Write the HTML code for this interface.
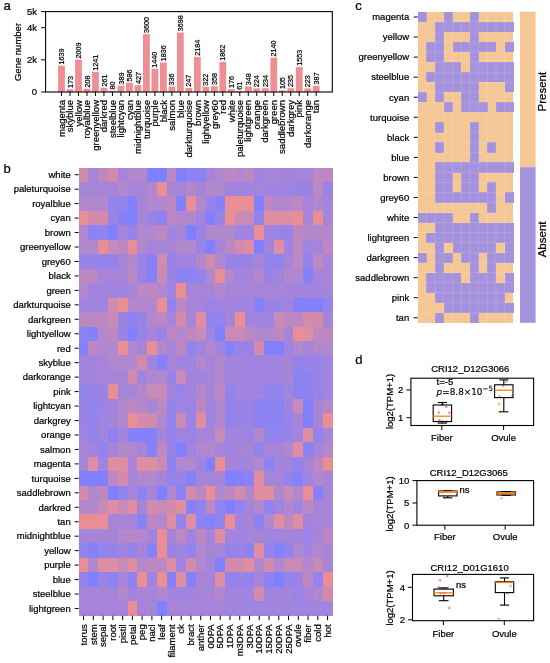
<!DOCTYPE html>
<html lang="en"><head><meta charset="utf-8"><title>Figure</title>
<style>
html,body{margin:0;padding:0;background:#fff;}
body{width:550px;height:663px;overflow:hidden;}
svg{display:block;font-family:'Liberation Sans', Arial, sans-serif;}
svg text{stroke:#000;stroke-width:0.22px;paint-order:stroke fill;}
</style></head>
<body>
<svg width="550" height="663" viewBox="0 0 550 663">
<rect x="0" y="0" width="550" height="663" fill="#ffffff"/>
<text x="3.50" y="10.20" font-size="13" text-anchor="start" fill="#000">a</text>
<text x="3.50" y="173.00" font-size="13" text-anchor="start" fill="#000">b</text>
<text x="355.30" y="10.20" font-size="13" text-anchor="start" fill="#000">c</text>
<text x="355.30" y="363.60" font-size="13" text-anchor="start" fill="#000">d</text>
<rect x="58.10" y="65.64" width="6.80" height="26.36" fill="#EE8F96"/>
<text x="64.10" y="64.44" font-size="7.2" text-anchor="start" fill="#000" transform="rotate(-90 64.10 64.44)">1639</text>
<line x1="61.50" y1="92.00" x2="61.50" y2="96.00" stroke="#000" stroke-width="1.0"/>
<text x="64.70" y="100.00" font-size="9.5" text-anchor="end" fill="#000" transform="rotate(-90 64.70 100.00)">magenta</text>
<rect x="66.59" y="89.22" width="6.80" height="2.78" fill="#EE8F96"/>
<text x="72.59" y="88.02" font-size="7.2" text-anchor="start" fill="#000" transform="rotate(-90 72.59 88.02)">173</text>
<line x1="69.99" y1="92.00" x2="69.99" y2="96.00" stroke="#000" stroke-width="1.0"/>
<text x="73.19" y="100.00" font-size="9.5" text-anchor="end" fill="#000" transform="rotate(-90 73.19 100.00)">skyblue</text>
<rect x="75.08" y="59.70" width="6.80" height="32.30" fill="#EE8F96"/>
<text x="81.08" y="58.50" font-size="7.2" text-anchor="start" fill="#000" transform="rotate(-90 81.08 58.50)">2009</text>
<line x1="78.48" y1="92.00" x2="78.48" y2="96.00" stroke="#000" stroke-width="1.0"/>
<text x="81.68" y="100.00" font-size="9.5" text-anchor="end" fill="#000" transform="rotate(-90 81.68 100.00)">yellow</text>
<rect x="83.57" y="88.66" width="6.80" height="3.34" fill="#EE8F96"/>
<text x="89.57" y="87.46" font-size="7.2" text-anchor="start" fill="#000" transform="rotate(-90 89.57 87.46)">208</text>
<line x1="86.97" y1="92.00" x2="86.97" y2="96.00" stroke="#000" stroke-width="1.0"/>
<text x="90.17" y="100.00" font-size="9.5" text-anchor="end" fill="#000" transform="rotate(-90 90.17 100.00)">royalblue</text>
<rect x="92.06" y="72.04" width="6.80" height="19.96" fill="#EE8F96"/>
<text x="98.06" y="70.84" font-size="7.2" text-anchor="start" fill="#000" transform="rotate(-90 98.06 70.84)">1241</text>
<line x1="95.46" y1="92.00" x2="95.46" y2="96.00" stroke="#000" stroke-width="1.0"/>
<text x="98.66" y="100.00" font-size="9.5" text-anchor="end" fill="#000" transform="rotate(-90 98.66 100.00)">greenyellow</text>
<rect x="100.55" y="87.80" width="6.80" height="4.20" fill="#EE8F96"/>
<text x="106.55" y="86.60" font-size="7.2" text-anchor="start" fill="#000" transform="rotate(-90 106.55 86.60)">261</text>
<line x1="103.95" y1="92.00" x2="103.95" y2="96.00" stroke="#000" stroke-width="1.0"/>
<text x="107.15" y="100.00" font-size="9.5" text-anchor="end" fill="#000" transform="rotate(-90 107.15 100.00)">darkred</text>
<rect x="109.04" y="90.71" width="6.80" height="1.29" fill="#EE8F96"/>
<text x="115.04" y="89.51" font-size="7.2" text-anchor="start" fill="#000" transform="rotate(-90 115.04 89.51)">80</text>
<line x1="112.44" y1="92.00" x2="112.44" y2="96.00" stroke="#000" stroke-width="1.0"/>
<text x="115.64" y="100.00" font-size="9.5" text-anchor="end" fill="#000" transform="rotate(-90 115.64 100.00)">steelblue</text>
<rect x="117.53" y="85.74" width="6.80" height="6.26" fill="#EE8F96"/>
<text x="123.53" y="84.54" font-size="7.2" text-anchor="start" fill="#000" transform="rotate(-90 123.53 84.54)">389</text>
<line x1="120.93" y1="92.00" x2="120.93" y2="96.00" stroke="#000" stroke-width="1.0"/>
<text x="124.13" y="100.00" font-size="9.5" text-anchor="end" fill="#000" transform="rotate(-90 124.13 100.00)">lightcyan</text>
<rect x="126.02" y="82.58" width="6.80" height="9.42" fill="#EE8F96"/>
<text x="132.02" y="81.38" font-size="7.2" text-anchor="start" fill="#000" transform="rotate(-90 132.02 81.38)">586</text>
<line x1="129.42" y1="92.00" x2="129.42" y2="96.00" stroke="#000" stroke-width="1.0"/>
<text x="132.62" y="100.00" font-size="9.5" text-anchor="end" fill="#000" transform="rotate(-90 132.62 100.00)">cyan</text>
<rect x="134.51" y="85.13" width="6.80" height="6.87" fill="#EE8F96"/>
<text x="140.51" y="83.93" font-size="7.2" text-anchor="start" fill="#000" transform="rotate(-90 140.51 83.93)">427</text>
<line x1="137.91" y1="92.00" x2="137.91" y2="96.00" stroke="#000" stroke-width="1.0"/>
<text x="141.11" y="100.00" font-size="9.5" text-anchor="end" fill="#000" transform="rotate(-90 141.11 100.00)">midnightblue</text>
<rect x="143.00" y="34.11" width="6.80" height="57.89" fill="#EE8F96"/>
<text x="149.00" y="32.91" font-size="7.2" text-anchor="start" fill="#000" transform="rotate(-90 149.00 32.91)">3600</text>
<line x1="146.40" y1="92.00" x2="146.40" y2="96.00" stroke="#000" stroke-width="1.0"/>
<text x="149.60" y="100.00" font-size="9.5" text-anchor="end" fill="#000" transform="rotate(-90 149.60 100.00)">turquoise</text>
<rect x="151.49" y="68.84" width="6.80" height="23.16" fill="#EE8F96"/>
<text x="157.49" y="67.64" font-size="7.2" text-anchor="start" fill="#000" transform="rotate(-90 157.49 67.64)">1440</text>
<line x1="154.89" y1="92.00" x2="154.89" y2="96.00" stroke="#000" stroke-width="1.0"/>
<text x="158.09" y="100.00" font-size="9.5" text-anchor="end" fill="#000" transform="rotate(-90 158.09 100.00)">purple</text>
<rect x="159.98" y="62.48" width="6.80" height="29.52" fill="#EE8F96"/>
<text x="165.98" y="61.28" font-size="7.2" text-anchor="start" fill="#000" transform="rotate(-90 165.98 61.28)">1836</text>
<line x1="163.38" y1="92.00" x2="163.38" y2="96.00" stroke="#000" stroke-width="1.0"/>
<text x="166.58" y="100.00" font-size="9.5" text-anchor="end" fill="#000" transform="rotate(-90 166.58 100.00)">black</text>
<rect x="168.47" y="86.60" width="6.80" height="5.40" fill="#EE8F96"/>
<text x="174.47" y="85.40" font-size="7.2" text-anchor="start" fill="#000" transform="rotate(-90 174.47 85.40)">336</text>
<line x1="171.87" y1="92.00" x2="171.87" y2="96.00" stroke="#000" stroke-width="1.0"/>
<text x="175.07" y="100.00" font-size="9.5" text-anchor="end" fill="#000" transform="rotate(-90 175.07 100.00)">salmon</text>
<rect x="176.96" y="32.54" width="6.80" height="59.46" fill="#EE8F96"/>
<text x="182.96" y="31.34" font-size="7.2" text-anchor="start" fill="#000" transform="rotate(-90 182.96 31.34)">3698</text>
<line x1="180.36" y1="92.00" x2="180.36" y2="96.00" stroke="#000" stroke-width="1.0"/>
<text x="183.56" y="100.00" font-size="9.5" text-anchor="end" fill="#000" transform="rotate(-90 183.56 100.00)">blue</text>
<rect x="185.45" y="88.03" width="6.80" height="3.97" fill="#EE8F96"/>
<text x="191.45" y="86.83" font-size="7.2" text-anchor="start" fill="#000" transform="rotate(-90 191.45 86.83)">247</text>
<line x1="188.85" y1="92.00" x2="188.85" y2="96.00" stroke="#000" stroke-width="1.0"/>
<text x="192.05" y="100.00" font-size="9.5" text-anchor="end" fill="#000" transform="rotate(-90 192.05 100.00)">darkturquoise</text>
<rect x="193.94" y="56.88" width="6.80" height="35.12" fill="#EE8F96"/>
<text x="199.94" y="55.68" font-size="7.2" text-anchor="start" fill="#000" transform="rotate(-90 199.94 55.68)">2184</text>
<line x1="197.34" y1="92.00" x2="197.34" y2="96.00" stroke="#000" stroke-width="1.0"/>
<text x="200.54" y="100.00" font-size="9.5" text-anchor="end" fill="#000" transform="rotate(-90 200.54 100.00)">brown</text>
<rect x="202.43" y="86.82" width="6.80" height="5.18" fill="#EE8F96"/>
<text x="208.43" y="85.62" font-size="7.2" text-anchor="start" fill="#000" transform="rotate(-90 208.43 85.62)">322</text>
<line x1="205.83" y1="92.00" x2="205.83" y2="96.00" stroke="#000" stroke-width="1.0"/>
<text x="209.03" y="100.00" font-size="9.5" text-anchor="end" fill="#000" transform="rotate(-90 209.03 100.00)">lightyellow</text>
<rect x="210.92" y="86.24" width="6.80" height="5.76" fill="#EE8F96"/>
<text x="216.92" y="85.04" font-size="7.2" text-anchor="start" fill="#000" transform="rotate(-90 216.92 85.04)">358</text>
<line x1="214.32" y1="92.00" x2="214.32" y2="96.00" stroke="#000" stroke-width="1.0"/>
<text x="217.52" y="100.00" font-size="9.5" text-anchor="end" fill="#000" transform="rotate(-90 217.52 100.00)">grey60</text>
<rect x="219.41" y="62.06" width="6.80" height="29.94" fill="#EE8F96"/>
<text x="225.41" y="60.86" font-size="7.2" text-anchor="start" fill="#000" transform="rotate(-90 225.41 60.86)">1862</text>
<line x1="222.81" y1="92.00" x2="222.81" y2="96.00" stroke="#000" stroke-width="1.0"/>
<text x="226.01" y="100.00" font-size="9.5" text-anchor="end" fill="#000" transform="rotate(-90 226.01 100.00)">red</text>
<rect x="227.90" y="89.17" width="6.80" height="2.83" fill="#EE8F96"/>
<text x="233.90" y="87.97" font-size="7.2" text-anchor="start" fill="#000" transform="rotate(-90 233.90 87.97)">176</text>
<line x1="231.30" y1="92.00" x2="231.30" y2="96.00" stroke="#000" stroke-width="1.0"/>
<text x="234.50" y="100.00" font-size="9.5" text-anchor="end" fill="#000" transform="rotate(-90 234.50 100.00)">white</text>
<rect x="236.39" y="91.02" width="6.80" height="0.98" fill="#EE8F96"/>
<text x="242.39" y="89.82" font-size="7.2" text-anchor="start" fill="#000" transform="rotate(-90 242.39 89.82)">61</text>
<line x1="239.79" y1="92.00" x2="239.79" y2="96.00" stroke="#000" stroke-width="1.0"/>
<text x="242.99" y="100.00" font-size="9.5" text-anchor="end" fill="#000" transform="rotate(-90 242.99 100.00)">paleturquoise</text>
<rect x="244.88" y="86.40" width="6.80" height="5.60" fill="#EE8F96"/>
<text x="250.88" y="85.20" font-size="7.2" text-anchor="start" fill="#000" transform="rotate(-90 250.88 85.20)">348</text>
<line x1="248.28" y1="92.00" x2="248.28" y2="96.00" stroke="#000" stroke-width="1.0"/>
<text x="251.48" y="100.00" font-size="9.5" text-anchor="end" fill="#000" transform="rotate(-90 251.48 100.00)">lightgreen</text>
<rect x="253.37" y="88.40" width="6.80" height="3.60" fill="#EE8F96"/>
<text x="259.37" y="87.20" font-size="7.2" text-anchor="start" fill="#000" transform="rotate(-90 259.37 87.20)">224</text>
<line x1="256.77" y1="92.00" x2="256.77" y2="96.00" stroke="#000" stroke-width="1.0"/>
<text x="259.97" y="100.00" font-size="9.5" text-anchor="end" fill="#000" transform="rotate(-90 259.97 100.00)">orange</text>
<rect x="261.86" y="88.24" width="6.80" height="3.76" fill="#EE8F96"/>
<text x="267.86" y="87.04" font-size="7.2" text-anchor="start" fill="#000" transform="rotate(-90 267.86 87.04)">234</text>
<line x1="265.26" y1="92.00" x2="265.26" y2="96.00" stroke="#000" stroke-width="1.0"/>
<text x="268.46" y="100.00" font-size="9.5" text-anchor="end" fill="#000" transform="rotate(-90 268.46 100.00)">darkgreen</text>
<rect x="270.35" y="57.59" width="6.80" height="34.41" fill="#EE8F96"/>
<text x="276.35" y="56.39" font-size="7.2" text-anchor="start" fill="#000" transform="rotate(-90 276.35 56.39)">2140</text>
<line x1="273.75" y1="92.00" x2="273.75" y2="96.00" stroke="#000" stroke-width="1.0"/>
<text x="276.95" y="100.00" font-size="9.5" text-anchor="end" fill="#000" transform="rotate(-90 276.95 100.00)">green</text>
<rect x="278.84" y="90.31" width="6.80" height="1.69" fill="#EE8F96"/>
<text x="284.84" y="89.11" font-size="7.2" text-anchor="start" fill="#000" transform="rotate(-90 284.84 89.11)">105</text>
<line x1="282.24" y1="92.00" x2="282.24" y2="96.00" stroke="#000" stroke-width="1.0"/>
<text x="285.44" y="100.00" font-size="9.5" text-anchor="end" fill="#000" transform="rotate(-90 285.44 100.00)">saddlebrown</text>
<rect x="287.33" y="88.22" width="6.80" height="3.78" fill="#EE8F96"/>
<text x="293.33" y="87.02" font-size="7.2" text-anchor="start" fill="#000" transform="rotate(-90 293.33 87.02)">235</text>
<line x1="290.73" y1="92.00" x2="290.73" y2="96.00" stroke="#000" stroke-width="1.0"/>
<text x="293.93" y="100.00" font-size="9.5" text-anchor="end" fill="#000" transform="rotate(-90 293.93 100.00)">darkgrey</text>
<rect x="295.82" y="67.03" width="6.80" height="24.97" fill="#EE8F96"/>
<text x="301.82" y="65.83" font-size="7.2" text-anchor="start" fill="#000" transform="rotate(-90 301.82 65.83)">1553</text>
<line x1="299.22" y1="92.00" x2="299.22" y2="96.00" stroke="#000" stroke-width="1.0"/>
<text x="302.42" y="100.00" font-size="9.5" text-anchor="end" fill="#000" transform="rotate(-90 302.42 100.00)">pink</text>
<rect x="304.31" y="88.41" width="6.80" height="3.59" fill="#EE8F96"/>
<text x="310.31" y="87.21" font-size="7.2" text-anchor="start" fill="#000" transform="rotate(-90 310.31 87.21)">223</text>
<line x1="307.71" y1="92.00" x2="307.71" y2="96.00" stroke="#000" stroke-width="1.0"/>
<text x="310.91" y="100.00" font-size="9.5" text-anchor="end" fill="#000" transform="rotate(-90 310.91 100.00)">darkorange</text>
<rect x="312.80" y="85.78" width="6.80" height="6.22" fill="#EE8F96"/>
<text x="318.80" y="84.58" font-size="7.2" text-anchor="start" fill="#000" transform="rotate(-90 318.80 84.58)">387</text>
<line x1="316.20" y1="92.00" x2="316.20" y2="96.00" stroke="#000" stroke-width="1.0"/>
<text x="319.40" y="100.00" font-size="9.5" text-anchor="end" fill="#000" transform="rotate(-90 319.40 100.00)">tan</text>
<rect x="45.60" y="11.60" width="286.70" height="80.40" fill="none" stroke="#000" stroke-width="1.1"/>
<line x1="41.10" y1="92.00" x2="45.60" y2="92.00" stroke="#000" stroke-width="1.0"/>
<text x="37.10" y="95.40" font-size="9.5" text-anchor="end" fill="#000">0</text>
<line x1="41.10" y1="59.84" x2="45.60" y2="59.84" stroke="#000" stroke-width="1.0"/>
<text x="37.10" y="63.24" font-size="9.5" text-anchor="end" fill="#000">2k</text>
<line x1="41.10" y1="27.68" x2="45.60" y2="27.68" stroke="#000" stroke-width="1.0"/>
<text x="37.10" y="31.08" font-size="9.5" text-anchor="end" fill="#000">4k</text>
<line x1="41.10" y1="11.60" x2="45.60" y2="11.60" stroke="#000" stroke-width="1.0"/>
<text x="37.10" y="15.00" font-size="9.5" text-anchor="end" fill="#000">5k</text>
<text x="21.00" y="52.00" font-size="9.5" text-anchor="middle" fill="#000" transform="rotate(-90 21.00 52.00)">Gene number</text>
<g shape-rendering="crispEdges">
<rect x="78.70" y="167.50" width="10.06" height="14.76" fill="#d38bac"/>
<rect x="88.46" y="167.50" width="10.06" height="14.76" fill="#a685d9"/>
<rect x="98.22" y="167.50" width="10.06" height="14.76" fill="#bd88c2"/>
<rect x="107.98" y="167.50" width="10.06" height="14.76" fill="#d38bac"/>
<rect x="117.74" y="167.50" width="10.06" height="14.76" fill="#a685d9"/>
<rect x="127.50" y="167.50" width="10.06" height="14.76" fill="#b187ce"/>
<rect x="137.26" y="167.50" width="10.06" height="14.76" fill="#b187ce"/>
<rect x="147.02" y="167.50" width="10.06" height="14.76" fill="#8080ff"/>
<rect x="156.78" y="167.50" width="10.06" height="14.76" fill="#8080ff"/>
<rect x="166.54" y="167.50" width="10.06" height="14.76" fill="#bd88c2"/>
<rect x="176.30" y="167.50" width="10.06" height="14.76" fill="#8080ff"/>
<rect x="186.06" y="167.50" width="10.06" height="14.76" fill="#8d82f2"/>
<rect x="195.82" y="167.50" width="10.06" height="14.76" fill="#8d82f2"/>
<rect x="205.58" y="167.50" width="10.06" height="14.76" fill="#a685d9"/>
<rect x="215.34" y="167.50" width="10.06" height="14.76" fill="#b187ce"/>
<rect x="225.10" y="167.50" width="10.06" height="14.76" fill="#bd88c2"/>
<rect x="234.86" y="167.50" width="10.06" height="14.76" fill="#b187ce"/>
<rect x="244.62" y="167.50" width="10.06" height="14.76" fill="#bd88c2"/>
<rect x="254.38" y="167.50" width="10.06" height="14.76" fill="#a084df"/>
<rect x="264.14" y="167.50" width="10.06" height="14.76" fill="#a685d9"/>
<rect x="273.90" y="167.50" width="10.06" height="14.76" fill="#a685d9"/>
<rect x="283.66" y="167.50" width="10.06" height="14.76" fill="#a084df"/>
<rect x="293.42" y="167.50" width="10.06" height="14.76" fill="#a685d9"/>
<rect x="303.18" y="167.50" width="10.06" height="14.76" fill="#a685d9"/>
<rect x="312.94" y="167.50" width="10.06" height="14.76" fill="#bd88c2"/>
<rect x="322.70" y="167.50" width="10.06" height="14.76" fill="#bd88c2"/>
<rect x="78.70" y="181.96" width="10.06" height="14.76" fill="#a685d9"/>
<rect x="88.46" y="181.96" width="10.06" height="14.76" fill="#a685d9"/>
<rect x="98.22" y="181.96" width="10.06" height="14.76" fill="#a685d9"/>
<rect x="107.98" y="181.96" width="10.06" height="14.76" fill="#a685d9"/>
<rect x="117.74" y="181.96" width="10.06" height="14.76" fill="#b187ce"/>
<rect x="127.50" y="181.96" width="10.06" height="14.76" fill="#a685d9"/>
<rect x="137.26" y="181.96" width="10.06" height="14.76" fill="#a685d9"/>
<rect x="147.02" y="181.96" width="10.06" height="14.76" fill="#b187ce"/>
<rect x="156.78" y="181.96" width="10.06" height="14.76" fill="#ea8e95"/>
<rect x="166.54" y="181.96" width="10.06" height="14.76" fill="#a685d9"/>
<rect x="176.30" y="181.96" width="10.06" height="14.76" fill="#a685d9"/>
<rect x="186.06" y="181.96" width="10.06" height="14.76" fill="#b187ce"/>
<rect x="195.82" y="181.96" width="10.06" height="14.76" fill="#a685d9"/>
<rect x="205.58" y="181.96" width="10.06" height="14.76" fill="#b187ce"/>
<rect x="215.34" y="181.96" width="10.06" height="14.76" fill="#b187ce"/>
<rect x="225.10" y="181.96" width="10.06" height="14.76" fill="#a084df"/>
<rect x="234.86" y="181.96" width="10.06" height="14.76" fill="#a084df"/>
<rect x="244.62" y="181.96" width="10.06" height="14.76" fill="#a084df"/>
<rect x="254.38" y="181.96" width="10.06" height="14.76" fill="#a685d9"/>
<rect x="264.14" y="181.96" width="10.06" height="14.76" fill="#a084df"/>
<rect x="273.90" y="181.96" width="10.06" height="14.76" fill="#a084df"/>
<rect x="283.66" y="181.96" width="10.06" height="14.76" fill="#a084df"/>
<rect x="293.42" y="181.96" width="10.06" height="14.76" fill="#9983e6"/>
<rect x="303.18" y="181.96" width="10.06" height="14.76" fill="#9983e6"/>
<rect x="312.94" y="181.96" width="10.06" height="14.76" fill="#bd88c2"/>
<rect x="322.70" y="181.96" width="10.06" height="14.76" fill="#9983e6"/>
<rect x="78.70" y="196.42" width="10.06" height="14.76" fill="#b187ce"/>
<rect x="88.46" y="196.42" width="10.06" height="14.76" fill="#b187ce"/>
<rect x="98.22" y="196.42" width="10.06" height="14.76" fill="#b187ce"/>
<rect x="107.98" y="196.42" width="10.06" height="14.76" fill="#9383ec"/>
<rect x="117.74" y="196.42" width="10.06" height="14.76" fill="#9383ec"/>
<rect x="127.50" y="196.42" width="10.06" height="14.76" fill="#8080ff"/>
<rect x="137.26" y="196.42" width="10.06" height="14.76" fill="#a685d9"/>
<rect x="147.02" y="196.42" width="10.06" height="14.76" fill="#b187ce"/>
<rect x="156.78" y="196.42" width="10.06" height="14.76" fill="#b187ce"/>
<rect x="166.54" y="196.42" width="10.06" height="14.76" fill="#bd88c2"/>
<rect x="176.30" y="196.42" width="10.06" height="14.76" fill="#8080ff"/>
<rect x="186.06" y="196.42" width="10.06" height="14.76" fill="#ea8e95"/>
<rect x="195.82" y="196.42" width="10.06" height="14.76" fill="#b187ce"/>
<rect x="205.58" y="196.42" width="10.06" height="14.76" fill="#9983e6"/>
<rect x="215.34" y="196.42" width="10.06" height="14.76" fill="#8681f9"/>
<rect x="225.10" y="196.42" width="10.06" height="14.76" fill="#ea8e95"/>
<rect x="234.86" y="196.42" width="10.06" height="14.76" fill="#ea8e95"/>
<rect x="244.62" y="196.42" width="10.06" height="14.76" fill="#ea8e95"/>
<rect x="254.38" y="196.42" width="10.06" height="14.76" fill="#8080ff"/>
<rect x="264.14" y="196.42" width="10.06" height="14.76" fill="#bd88c2"/>
<rect x="273.90" y="196.42" width="10.06" height="14.76" fill="#b187ce"/>
<rect x="283.66" y="196.42" width="10.06" height="14.76" fill="#b187ce"/>
<rect x="293.42" y="196.42" width="10.06" height="14.76" fill="#bd88c2"/>
<rect x="303.18" y="196.42" width="10.06" height="14.76" fill="#a685d9"/>
<rect x="312.94" y="196.42" width="10.06" height="14.76" fill="#b187ce"/>
<rect x="322.70" y="196.42" width="10.06" height="14.76" fill="#a685d9"/>
<rect x="78.70" y="210.87" width="10.06" height="14.76" fill="#ea8e95"/>
<rect x="88.46" y="210.87" width="10.06" height="14.76" fill="#d38bac"/>
<rect x="98.22" y="210.87" width="10.06" height="14.76" fill="#d38bac"/>
<rect x="107.98" y="210.87" width="10.06" height="14.76" fill="#9983e6"/>
<rect x="117.74" y="210.87" width="10.06" height="14.76" fill="#8681f9"/>
<rect x="127.50" y="210.87" width="10.06" height="14.76" fill="#8080ff"/>
<rect x="137.26" y="210.87" width="10.06" height="14.76" fill="#a685d9"/>
<rect x="147.02" y="210.87" width="10.06" height="14.76" fill="#9983e6"/>
<rect x="156.78" y="210.87" width="10.06" height="14.76" fill="#8d82f2"/>
<rect x="166.54" y="210.87" width="10.06" height="14.76" fill="#bd88c2"/>
<rect x="176.30" y="210.87" width="10.06" height="14.76" fill="#b187ce"/>
<rect x="186.06" y="210.87" width="10.06" height="14.76" fill="#b187ce"/>
<rect x="195.82" y="210.87" width="10.06" height="14.76" fill="#a084df"/>
<rect x="205.58" y="210.87" width="10.06" height="14.76" fill="#8080ff"/>
<rect x="215.34" y="210.87" width="10.06" height="14.76" fill="#9983e6"/>
<rect x="225.10" y="210.87" width="10.06" height="14.76" fill="#ea8e95"/>
<rect x="234.86" y="210.87" width="10.06" height="14.76" fill="#c88ab7"/>
<rect x="244.62" y="210.87" width="10.06" height="14.76" fill="#c88ab7"/>
<rect x="254.38" y="210.87" width="10.06" height="14.76" fill="#9383ec"/>
<rect x="264.14" y="210.87" width="10.06" height="14.76" fill="#df8da0"/>
<rect x="273.90" y="210.87" width="10.06" height="14.76" fill="#df8da0"/>
<rect x="283.66" y="210.87" width="10.06" height="14.76" fill="#df8da0"/>
<rect x="293.42" y="210.87" width="10.06" height="14.76" fill="#ea8e95"/>
<rect x="303.18" y="210.87" width="10.06" height="14.76" fill="#a685d9"/>
<rect x="312.94" y="210.87" width="10.06" height="14.76" fill="#ea8e95"/>
<rect x="322.70" y="210.87" width="10.06" height="14.76" fill="#a685d9"/>
<rect x="78.70" y="225.33" width="10.06" height="14.76" fill="#b187ce"/>
<rect x="88.46" y="225.33" width="10.06" height="14.76" fill="#8d82f2"/>
<rect x="98.22" y="225.33" width="10.06" height="14.76" fill="#9383ec"/>
<rect x="107.98" y="225.33" width="10.06" height="14.76" fill="#8080ff"/>
<rect x="117.74" y="225.33" width="10.06" height="14.76" fill="#a685d9"/>
<rect x="127.50" y="225.33" width="10.06" height="14.76" fill="#9983e6"/>
<rect x="137.26" y="225.33" width="10.06" height="14.76" fill="#b187ce"/>
<rect x="147.02" y="225.33" width="10.06" height="14.76" fill="#b187ce"/>
<rect x="156.78" y="225.33" width="10.06" height="14.76" fill="#bd88c2"/>
<rect x="166.54" y="225.33" width="10.06" height="14.76" fill="#a084df"/>
<rect x="176.30" y="225.33" width="10.06" height="14.76" fill="#a685d9"/>
<rect x="186.06" y="225.33" width="10.06" height="14.76" fill="#8080ff"/>
<rect x="195.82" y="225.33" width="10.06" height="14.76" fill="#9983e6"/>
<rect x="205.58" y="225.33" width="10.06" height="14.76" fill="#b187ce"/>
<rect x="215.34" y="225.33" width="10.06" height="14.76" fill="#b187ce"/>
<rect x="225.10" y="225.33" width="10.06" height="14.76" fill="#b187ce"/>
<rect x="234.86" y="225.33" width="10.06" height="14.76" fill="#a084df"/>
<rect x="244.62" y="225.33" width="10.06" height="14.76" fill="#a084df"/>
<rect x="254.38" y="225.33" width="10.06" height="14.76" fill="#ea8e95"/>
<rect x="264.14" y="225.33" width="10.06" height="14.76" fill="#a084df"/>
<rect x="273.90" y="225.33" width="10.06" height="14.76" fill="#9983e6"/>
<rect x="283.66" y="225.33" width="10.06" height="14.76" fill="#9983e6"/>
<rect x="293.42" y="225.33" width="10.06" height="14.76" fill="#bd88c2"/>
<rect x="303.18" y="225.33" width="10.06" height="14.76" fill="#b187ce"/>
<rect x="312.94" y="225.33" width="10.06" height="14.76" fill="#b187ce"/>
<rect x="322.70" y="225.33" width="10.06" height="14.76" fill="#b187ce"/>
<rect x="78.70" y="239.79" width="10.06" height="14.76" fill="#b187ce"/>
<rect x="88.46" y="239.79" width="10.06" height="14.76" fill="#b187ce"/>
<rect x="98.22" y="239.79" width="10.06" height="14.76" fill="#ea8e95"/>
<rect x="107.98" y="239.79" width="10.06" height="14.76" fill="#c88ab7"/>
<rect x="117.74" y="239.79" width="10.06" height="14.76" fill="#bd88c2"/>
<rect x="127.50" y="239.79" width="10.06" height="14.76" fill="#ea8e95"/>
<rect x="137.26" y="239.79" width="10.06" height="14.76" fill="#b187ce"/>
<rect x="147.02" y="239.79" width="10.06" height="14.76" fill="#a685d9"/>
<rect x="156.78" y="239.79" width="10.06" height="14.76" fill="#a685d9"/>
<rect x="166.54" y="239.79" width="10.06" height="14.76" fill="#a685d9"/>
<rect x="176.30" y="239.79" width="10.06" height="14.76" fill="#b187ce"/>
<rect x="186.06" y="239.79" width="10.06" height="14.76" fill="#b187ce"/>
<rect x="195.82" y="239.79" width="10.06" height="14.76" fill="#9983e6"/>
<rect x="205.58" y="239.79" width="10.06" height="14.76" fill="#8080ff"/>
<rect x="215.34" y="239.79" width="10.06" height="14.76" fill="#a685d9"/>
<rect x="225.10" y="239.79" width="10.06" height="14.76" fill="#bd88c2"/>
<rect x="234.86" y="239.79" width="10.06" height="14.76" fill="#d38bac"/>
<rect x="244.62" y="239.79" width="10.06" height="14.76" fill="#df8da0"/>
<rect x="254.38" y="239.79" width="10.06" height="14.76" fill="#8080ff"/>
<rect x="264.14" y="239.79" width="10.06" height="14.76" fill="#a084df"/>
<rect x="273.90" y="239.79" width="10.06" height="14.76" fill="#df8da0"/>
<rect x="283.66" y="239.79" width="10.06" height="14.76" fill="#a084df"/>
<rect x="293.42" y="239.79" width="10.06" height="14.76" fill="#bd88c2"/>
<rect x="303.18" y="239.79" width="10.06" height="14.76" fill="#a084df"/>
<rect x="312.94" y="239.79" width="10.06" height="14.76" fill="#a685d9"/>
<rect x="322.70" y="239.79" width="10.06" height="14.76" fill="#bd88c2"/>
<rect x="78.70" y="254.25" width="10.06" height="14.76" fill="#9983e6"/>
<rect x="88.46" y="254.25" width="10.06" height="14.76" fill="#9983e6"/>
<rect x="98.22" y="254.25" width="10.06" height="14.76" fill="#9383ec"/>
<rect x="107.98" y="254.25" width="10.06" height="14.76" fill="#9383ec"/>
<rect x="117.74" y="254.25" width="10.06" height="14.76" fill="#a685d9"/>
<rect x="127.50" y="254.25" width="10.06" height="14.76" fill="#b187ce"/>
<rect x="137.26" y="254.25" width="10.06" height="14.76" fill="#9983e6"/>
<rect x="147.02" y="254.25" width="10.06" height="14.76" fill="#8681f9"/>
<rect x="156.78" y="254.25" width="10.06" height="14.76" fill="#d38bac"/>
<rect x="166.54" y="254.25" width="10.06" height="14.76" fill="#9983e6"/>
<rect x="176.30" y="254.25" width="10.06" height="14.76" fill="#a084df"/>
<rect x="186.06" y="254.25" width="10.06" height="14.76" fill="#a084df"/>
<rect x="195.82" y="254.25" width="10.06" height="14.76" fill="#b187ce"/>
<rect x="205.58" y="254.25" width="10.06" height="14.76" fill="#d38bac"/>
<rect x="215.34" y="254.25" width="10.06" height="14.76" fill="#b187ce"/>
<rect x="225.10" y="254.25" width="10.06" height="14.76" fill="#9983e6"/>
<rect x="234.86" y="254.25" width="10.06" height="14.76" fill="#9983e6"/>
<rect x="244.62" y="254.25" width="10.06" height="14.76" fill="#9983e6"/>
<rect x="254.38" y="254.25" width="10.06" height="14.76" fill="#a685d9"/>
<rect x="264.14" y="254.25" width="10.06" height="14.76" fill="#9383ec"/>
<rect x="273.90" y="254.25" width="10.06" height="14.76" fill="#9383ec"/>
<rect x="283.66" y="254.25" width="10.06" height="14.76" fill="#a685d9"/>
<rect x="293.42" y="254.25" width="10.06" height="14.76" fill="#bd88c2"/>
<rect x="303.18" y="254.25" width="10.06" height="14.76" fill="#9383ec"/>
<rect x="312.94" y="254.25" width="10.06" height="14.76" fill="#bd88c2"/>
<rect x="322.70" y="254.25" width="10.06" height="14.76" fill="#a685d9"/>
<rect x="78.70" y="268.71" width="10.06" height="14.76" fill="#bd88c2"/>
<rect x="88.46" y="268.71" width="10.06" height="14.76" fill="#bd88c2"/>
<rect x="98.22" y="268.71" width="10.06" height="14.76" fill="#a685d9"/>
<rect x="107.98" y="268.71" width="10.06" height="14.76" fill="#a685d9"/>
<rect x="117.74" y="268.71" width="10.06" height="14.76" fill="#a685d9"/>
<rect x="127.50" y="268.71" width="10.06" height="14.76" fill="#bd88c2"/>
<rect x="137.26" y="268.71" width="10.06" height="14.76" fill="#9983e6"/>
<rect x="147.02" y="268.71" width="10.06" height="14.76" fill="#8681f9"/>
<rect x="156.78" y="268.71" width="10.06" height="14.76" fill="#c88ab7"/>
<rect x="166.54" y="268.71" width="10.06" height="14.76" fill="#9983e6"/>
<rect x="176.30" y="268.71" width="10.06" height="14.76" fill="#8d82f2"/>
<rect x="186.06" y="268.71" width="10.06" height="14.76" fill="#8d82f2"/>
<rect x="195.82" y="268.71" width="10.06" height="14.76" fill="#9383ec"/>
<rect x="205.58" y="268.71" width="10.06" height="14.76" fill="#b187ce"/>
<rect x="215.34" y="268.71" width="10.06" height="14.76" fill="#ea8e95"/>
<rect x="225.10" y="268.71" width="10.06" height="14.76" fill="#b187ce"/>
<rect x="234.86" y="268.71" width="10.06" height="14.76" fill="#a084df"/>
<rect x="244.62" y="268.71" width="10.06" height="14.76" fill="#a685d9"/>
<rect x="254.38" y="268.71" width="10.06" height="14.76" fill="#b187ce"/>
<rect x="264.14" y="268.71" width="10.06" height="14.76" fill="#9983e6"/>
<rect x="273.90" y="268.71" width="10.06" height="14.76" fill="#a084df"/>
<rect x="283.66" y="268.71" width="10.06" height="14.76" fill="#b187ce"/>
<rect x="293.42" y="268.71" width="10.06" height="14.76" fill="#b187ce"/>
<rect x="303.18" y="268.71" width="10.06" height="14.76" fill="#8681f9"/>
<rect x="312.94" y="268.71" width="10.06" height="14.76" fill="#a685d9"/>
<rect x="322.70" y="268.71" width="10.06" height="14.76" fill="#a685d9"/>
<rect x="78.70" y="283.16" width="10.06" height="14.76" fill="#b187ce"/>
<rect x="88.46" y="283.16" width="10.06" height="14.76" fill="#a084df"/>
<rect x="98.22" y="283.16" width="10.06" height="14.76" fill="#a084df"/>
<rect x="107.98" y="283.16" width="10.06" height="14.76" fill="#a084df"/>
<rect x="117.74" y="283.16" width="10.06" height="14.76" fill="#a084df"/>
<rect x="127.50" y="283.16" width="10.06" height="14.76" fill="#a685d9"/>
<rect x="137.26" y="283.16" width="10.06" height="14.76" fill="#bd88c2"/>
<rect x="147.02" y="283.16" width="10.06" height="14.76" fill="#bd88c2"/>
<rect x="156.78" y="283.16" width="10.06" height="14.76" fill="#b187ce"/>
<rect x="166.54" y="283.16" width="10.06" height="14.76" fill="#a084df"/>
<rect x="176.30" y="283.16" width="10.06" height="14.76" fill="#ea8e95"/>
<rect x="186.06" y="283.16" width="10.06" height="14.76" fill="#a685d9"/>
<rect x="195.82" y="283.16" width="10.06" height="14.76" fill="#a685d9"/>
<rect x="205.58" y="283.16" width="10.06" height="14.76" fill="#a685d9"/>
<rect x="215.34" y="283.16" width="10.06" height="14.76" fill="#b187ce"/>
<rect x="225.10" y="283.16" width="10.06" height="14.76" fill="#a685d9"/>
<rect x="234.86" y="283.16" width="10.06" height="14.76" fill="#a685d9"/>
<rect x="244.62" y="283.16" width="10.06" height="14.76" fill="#a685d9"/>
<rect x="254.38" y="283.16" width="10.06" height="14.76" fill="#a685d9"/>
<rect x="264.14" y="283.16" width="10.06" height="14.76" fill="#a685d9"/>
<rect x="273.90" y="283.16" width="10.06" height="14.76" fill="#a685d9"/>
<rect x="283.66" y="283.16" width="10.06" height="14.76" fill="#a685d9"/>
<rect x="293.42" y="283.16" width="10.06" height="14.76" fill="#a084df"/>
<rect x="303.18" y="283.16" width="10.06" height="14.76" fill="#a084df"/>
<rect x="312.94" y="283.16" width="10.06" height="14.76" fill="#a084df"/>
<rect x="322.70" y="283.16" width="10.06" height="14.76" fill="#a685d9"/>
<rect x="78.70" y="297.62" width="10.06" height="14.76" fill="#a084df"/>
<rect x="88.46" y="297.62" width="10.06" height="14.76" fill="#a084df"/>
<rect x="98.22" y="297.62" width="10.06" height="14.76" fill="#a084df"/>
<rect x="107.98" y="297.62" width="10.06" height="14.76" fill="#d38bac"/>
<rect x="117.74" y="297.62" width="10.06" height="14.76" fill="#ea8e95"/>
<rect x="127.50" y="297.62" width="10.06" height="14.76" fill="#b187ce"/>
<rect x="137.26" y="297.62" width="10.06" height="14.76" fill="#b187ce"/>
<rect x="147.02" y="297.62" width="10.06" height="14.76" fill="#b187ce"/>
<rect x="156.78" y="297.62" width="10.06" height="14.76" fill="#ea8e95"/>
<rect x="166.54" y="297.62" width="10.06" height="14.76" fill="#9383ec"/>
<rect x="176.30" y="297.62" width="10.06" height="14.76" fill="#bd88c2"/>
<rect x="186.06" y="297.62" width="10.06" height="14.76" fill="#a685d9"/>
<rect x="195.82" y="297.62" width="10.06" height="14.76" fill="#a685d9"/>
<rect x="205.58" y="297.62" width="10.06" height="14.76" fill="#9983e6"/>
<rect x="215.34" y="297.62" width="10.06" height="14.76" fill="#a084df"/>
<rect x="225.10" y="297.62" width="10.06" height="14.76" fill="#a084df"/>
<rect x="234.86" y="297.62" width="10.06" height="14.76" fill="#a084df"/>
<rect x="244.62" y="297.62" width="10.06" height="14.76" fill="#a084df"/>
<rect x="254.38" y="297.62" width="10.06" height="14.76" fill="#8681f9"/>
<rect x="264.14" y="297.62" width="10.06" height="14.76" fill="#9983e6"/>
<rect x="273.90" y="297.62" width="10.06" height="14.76" fill="#9983e6"/>
<rect x="283.66" y="297.62" width="10.06" height="14.76" fill="#a084df"/>
<rect x="293.42" y="297.62" width="10.06" height="14.76" fill="#8681f9"/>
<rect x="303.18" y="297.62" width="10.06" height="14.76" fill="#8681f9"/>
<rect x="312.94" y="297.62" width="10.06" height="14.76" fill="#8080ff"/>
<rect x="322.70" y="297.62" width="10.06" height="14.76" fill="#9383ec"/>
<rect x="78.70" y="312.08" width="10.06" height="14.76" fill="#bd88c2"/>
<rect x="88.46" y="312.08" width="10.06" height="14.76" fill="#bd88c2"/>
<rect x="98.22" y="312.08" width="10.06" height="14.76" fill="#bd88c2"/>
<rect x="107.98" y="312.08" width="10.06" height="14.76" fill="#c88ab7"/>
<rect x="117.74" y="312.08" width="10.06" height="14.76" fill="#9983e6"/>
<rect x="127.50" y="312.08" width="10.06" height="14.76" fill="#8d82f2"/>
<rect x="137.26" y="312.08" width="10.06" height="14.76" fill="#9983e6"/>
<rect x="147.02" y="312.08" width="10.06" height="14.76" fill="#b187ce"/>
<rect x="156.78" y="312.08" width="10.06" height="14.76" fill="#bd88c2"/>
<rect x="166.54" y="312.08" width="10.06" height="14.76" fill="#a685d9"/>
<rect x="176.30" y="312.08" width="10.06" height="14.76" fill="#d38bac"/>
<rect x="186.06" y="312.08" width="10.06" height="14.76" fill="#a685d9"/>
<rect x="195.82" y="312.08" width="10.06" height="14.76" fill="#df8da0"/>
<rect x="205.58" y="312.08" width="10.06" height="14.76" fill="#9383ec"/>
<rect x="215.34" y="312.08" width="10.06" height="14.76" fill="#9383ec"/>
<rect x="225.10" y="312.08" width="10.06" height="14.76" fill="#a685d9"/>
<rect x="234.86" y="312.08" width="10.06" height="14.76" fill="#ea8e95"/>
<rect x="244.62" y="312.08" width="10.06" height="14.76" fill="#a084df"/>
<rect x="254.38" y="312.08" width="10.06" height="14.76" fill="#a084df"/>
<rect x="264.14" y="312.08" width="10.06" height="14.76" fill="#a084df"/>
<rect x="273.90" y="312.08" width="10.06" height="14.76" fill="#c88ab7"/>
<rect x="283.66" y="312.08" width="10.06" height="14.76" fill="#bd88c2"/>
<rect x="293.42" y="312.08" width="10.06" height="14.76" fill="#bd88c2"/>
<rect x="303.18" y="312.08" width="10.06" height="14.76" fill="#d38bac"/>
<rect x="312.94" y="312.08" width="10.06" height="14.76" fill="#d38bac"/>
<rect x="322.70" y="312.08" width="10.06" height="14.76" fill="#a685d9"/>
<rect x="78.70" y="326.54" width="10.06" height="14.76" fill="#8d82f2"/>
<rect x="88.46" y="326.54" width="10.06" height="14.76" fill="#8681f9"/>
<rect x="98.22" y="326.54" width="10.06" height="14.76" fill="#b187ce"/>
<rect x="107.98" y="326.54" width="10.06" height="14.76" fill="#bd88c2"/>
<rect x="117.74" y="326.54" width="10.06" height="14.76" fill="#9983e6"/>
<rect x="127.50" y="326.54" width="10.06" height="14.76" fill="#8080ff"/>
<rect x="137.26" y="326.54" width="10.06" height="14.76" fill="#9983e6"/>
<rect x="147.02" y="326.54" width="10.06" height="14.76" fill="#a685d9"/>
<rect x="156.78" y="326.54" width="10.06" height="14.76" fill="#9983e6"/>
<rect x="166.54" y="326.54" width="10.06" height="14.76" fill="#bd88c2"/>
<rect x="176.30" y="326.54" width="10.06" height="14.76" fill="#b187ce"/>
<rect x="186.06" y="326.54" width="10.06" height="14.76" fill="#bd88c2"/>
<rect x="195.82" y="326.54" width="10.06" height="14.76" fill="#c88ab7"/>
<rect x="205.58" y="326.54" width="10.06" height="14.76" fill="#a084df"/>
<rect x="215.34" y="326.54" width="10.06" height="14.76" fill="#8080ff"/>
<rect x="225.10" y="326.54" width="10.06" height="14.76" fill="#c88ab7"/>
<rect x="234.86" y="326.54" width="10.06" height="14.76" fill="#c88ab7"/>
<rect x="244.62" y="326.54" width="10.06" height="14.76" fill="#bd88c2"/>
<rect x="254.38" y="326.54" width="10.06" height="14.76" fill="#b187ce"/>
<rect x="264.14" y="326.54" width="10.06" height="14.76" fill="#b187ce"/>
<rect x="273.90" y="326.54" width="10.06" height="14.76" fill="#bd88c2"/>
<rect x="283.66" y="326.54" width="10.06" height="14.76" fill="#a685d9"/>
<rect x="293.42" y="326.54" width="10.06" height="14.76" fill="#ea8e95"/>
<rect x="303.18" y="326.54" width="10.06" height="14.76" fill="#df8da0"/>
<rect x="312.94" y="326.54" width="10.06" height="14.76" fill="#bd88c2"/>
<rect x="322.70" y="326.54" width="10.06" height="14.76" fill="#bd88c2"/>
<rect x="78.70" y="341.00" width="10.06" height="14.76" fill="#8681f9"/>
<rect x="88.46" y="341.00" width="10.06" height="14.76" fill="#bd88c2"/>
<rect x="98.22" y="341.00" width="10.06" height="14.76" fill="#b187ce"/>
<rect x="107.98" y="341.00" width="10.06" height="14.76" fill="#b187ce"/>
<rect x="117.74" y="341.00" width="10.06" height="14.76" fill="#ea8e95"/>
<rect x="127.50" y="341.00" width="10.06" height="14.76" fill="#b187ce"/>
<rect x="137.26" y="341.00" width="10.06" height="14.76" fill="#a685d9"/>
<rect x="147.02" y="341.00" width="10.06" height="14.76" fill="#ea8e95"/>
<rect x="156.78" y="341.00" width="10.06" height="14.76" fill="#b187ce"/>
<rect x="166.54" y="341.00" width="10.06" height="14.76" fill="#a685d9"/>
<rect x="176.30" y="341.00" width="10.06" height="14.76" fill="#bd88c2"/>
<rect x="186.06" y="341.00" width="10.06" height="14.76" fill="#9383ec"/>
<rect x="195.82" y="341.00" width="10.06" height="14.76" fill="#a084df"/>
<rect x="205.58" y="341.00" width="10.06" height="14.76" fill="#b187ce"/>
<rect x="215.34" y="341.00" width="10.06" height="14.76" fill="#a084df"/>
<rect x="225.10" y="341.00" width="10.06" height="14.76" fill="#8681f9"/>
<rect x="234.86" y="341.00" width="10.06" height="14.76" fill="#9983e6"/>
<rect x="244.62" y="341.00" width="10.06" height="14.76" fill="#9983e6"/>
<rect x="254.38" y="341.00" width="10.06" height="14.76" fill="#d38bac"/>
<rect x="264.14" y="341.00" width="10.06" height="14.76" fill="#8080ff"/>
<rect x="273.90" y="341.00" width="10.06" height="14.76" fill="#8080ff"/>
<rect x="283.66" y="341.00" width="10.06" height="14.76" fill="#a084df"/>
<rect x="293.42" y="341.00" width="10.06" height="14.76" fill="#b187ce"/>
<rect x="303.18" y="341.00" width="10.06" height="14.76" fill="#a685d9"/>
<rect x="312.94" y="341.00" width="10.06" height="14.76" fill="#b187ce"/>
<rect x="322.70" y="341.00" width="10.06" height="14.76" fill="#b187ce"/>
<rect x="78.70" y="355.45" width="10.06" height="14.76" fill="#a084df"/>
<rect x="88.46" y="355.45" width="10.06" height="14.76" fill="#a084df"/>
<rect x="98.22" y="355.45" width="10.06" height="14.76" fill="#a685d9"/>
<rect x="107.98" y="355.45" width="10.06" height="14.76" fill="#b187ce"/>
<rect x="117.74" y="355.45" width="10.06" height="14.76" fill="#b187ce"/>
<rect x="127.50" y="355.45" width="10.06" height="14.76" fill="#b187ce"/>
<rect x="137.26" y="355.45" width="10.06" height="14.76" fill="#d38bac"/>
<rect x="147.02" y="355.45" width="10.06" height="14.76" fill="#a084df"/>
<rect x="156.78" y="355.45" width="10.06" height="14.76" fill="#8681f9"/>
<rect x="166.54" y="355.45" width="10.06" height="14.76" fill="#a685d9"/>
<rect x="176.30" y="355.45" width="10.06" height="14.76" fill="#a084df"/>
<rect x="186.06" y="355.45" width="10.06" height="14.76" fill="#a084df"/>
<rect x="195.82" y="355.45" width="10.06" height="14.76" fill="#b187ce"/>
<rect x="205.58" y="355.45" width="10.06" height="14.76" fill="#a685d9"/>
<rect x="215.34" y="355.45" width="10.06" height="14.76" fill="#b187ce"/>
<rect x="225.10" y="355.45" width="10.06" height="14.76" fill="#a084df"/>
<rect x="234.86" y="355.45" width="10.06" height="14.76" fill="#a084df"/>
<rect x="244.62" y="355.45" width="10.06" height="14.76" fill="#a084df"/>
<rect x="254.38" y="355.45" width="10.06" height="14.76" fill="#a084df"/>
<rect x="264.14" y="355.45" width="10.06" height="14.76" fill="#a084df"/>
<rect x="273.90" y="355.45" width="10.06" height="14.76" fill="#a084df"/>
<rect x="283.66" y="355.45" width="10.06" height="14.76" fill="#a685d9"/>
<rect x="293.42" y="355.45" width="10.06" height="14.76" fill="#9383ec"/>
<rect x="303.18" y="355.45" width="10.06" height="14.76" fill="#9983e6"/>
<rect x="312.94" y="355.45" width="10.06" height="14.76" fill="#9983e6"/>
<rect x="322.70" y="355.45" width="10.06" height="14.76" fill="#a084df"/>
<rect x="78.70" y="369.91" width="10.06" height="14.76" fill="#a084df"/>
<rect x="88.46" y="369.91" width="10.06" height="14.76" fill="#a084df"/>
<rect x="98.22" y="369.91" width="10.06" height="14.76" fill="#a685d9"/>
<rect x="107.98" y="369.91" width="10.06" height="14.76" fill="#a685d9"/>
<rect x="117.74" y="369.91" width="10.06" height="14.76" fill="#a685d9"/>
<rect x="127.50" y="369.91" width="10.06" height="14.76" fill="#d38bac"/>
<rect x="137.26" y="369.91" width="10.06" height="14.76" fill="#a084df"/>
<rect x="147.02" y="369.91" width="10.06" height="14.76" fill="#b187ce"/>
<rect x="156.78" y="369.91" width="10.06" height="14.76" fill="#b187ce"/>
<rect x="166.54" y="369.91" width="10.06" height="14.76" fill="#9983e6"/>
<rect x="176.30" y="369.91" width="10.06" height="14.76" fill="#c88ab7"/>
<rect x="186.06" y="369.91" width="10.06" height="14.76" fill="#a084df"/>
<rect x="195.82" y="369.91" width="10.06" height="14.76" fill="#a084df"/>
<rect x="205.58" y="369.91" width="10.06" height="14.76" fill="#a685d9"/>
<rect x="215.34" y="369.91" width="10.06" height="14.76" fill="#b187ce"/>
<rect x="225.10" y="369.91" width="10.06" height="14.76" fill="#a084df"/>
<rect x="234.86" y="369.91" width="10.06" height="14.76" fill="#a084df"/>
<rect x="244.62" y="369.91" width="10.06" height="14.76" fill="#a084df"/>
<rect x="254.38" y="369.91" width="10.06" height="14.76" fill="#a084df"/>
<rect x="264.14" y="369.91" width="10.06" height="14.76" fill="#a084df"/>
<rect x="273.90" y="369.91" width="10.06" height="14.76" fill="#a084df"/>
<rect x="283.66" y="369.91" width="10.06" height="14.76" fill="#a685d9"/>
<rect x="293.42" y="369.91" width="10.06" height="14.76" fill="#8d82f2"/>
<rect x="303.18" y="369.91" width="10.06" height="14.76" fill="#8d82f2"/>
<rect x="312.94" y="369.91" width="10.06" height="14.76" fill="#9983e6"/>
<rect x="322.70" y="369.91" width="10.06" height="14.76" fill="#a084df"/>
<rect x="78.70" y="384.37" width="10.06" height="14.76" fill="#9383ec"/>
<rect x="88.46" y="384.37" width="10.06" height="14.76" fill="#9983e6"/>
<rect x="98.22" y="384.37" width="10.06" height="14.76" fill="#9983e6"/>
<rect x="107.98" y="384.37" width="10.06" height="14.76" fill="#ea8e95"/>
<rect x="117.74" y="384.37" width="10.06" height="14.76" fill="#a685d9"/>
<rect x="127.50" y="384.37" width="10.06" height="14.76" fill="#a685d9"/>
<rect x="137.26" y="384.37" width="10.06" height="14.76" fill="#b187ce"/>
<rect x="147.02" y="384.37" width="10.06" height="14.76" fill="#c88ab7"/>
<rect x="156.78" y="384.37" width="10.06" height="14.76" fill="#c88ab7"/>
<rect x="166.54" y="384.37" width="10.06" height="14.76" fill="#a084df"/>
<rect x="176.30" y="384.37" width="10.06" height="14.76" fill="#9983e6"/>
<rect x="186.06" y="384.37" width="10.06" height="14.76" fill="#a084df"/>
<rect x="195.82" y="384.37" width="10.06" height="14.76" fill="#b187ce"/>
<rect x="205.58" y="384.37" width="10.06" height="14.76" fill="#a685d9"/>
<rect x="215.34" y="384.37" width="10.06" height="14.76" fill="#bd88c2"/>
<rect x="225.10" y="384.37" width="10.06" height="14.76" fill="#9383ec"/>
<rect x="234.86" y="384.37" width="10.06" height="14.76" fill="#a084df"/>
<rect x="244.62" y="384.37" width="10.06" height="14.76" fill="#a084df"/>
<rect x="254.38" y="384.37" width="10.06" height="14.76" fill="#a084df"/>
<rect x="264.14" y="384.37" width="10.06" height="14.76" fill="#9383ec"/>
<rect x="273.90" y="384.37" width="10.06" height="14.76" fill="#9383ec"/>
<rect x="283.66" y="384.37" width="10.06" height="14.76" fill="#a084df"/>
<rect x="293.42" y="384.37" width="10.06" height="14.76" fill="#8d82f2"/>
<rect x="303.18" y="384.37" width="10.06" height="14.76" fill="#8d82f2"/>
<rect x="312.94" y="384.37" width="10.06" height="14.76" fill="#9983e6"/>
<rect x="322.70" y="384.37" width="10.06" height="14.76" fill="#a084df"/>
<rect x="78.70" y="398.83" width="10.06" height="14.76" fill="#9983e6"/>
<rect x="88.46" y="398.83" width="10.06" height="14.76" fill="#9383ec"/>
<rect x="98.22" y="398.83" width="10.06" height="14.76" fill="#9983e6"/>
<rect x="107.98" y="398.83" width="10.06" height="14.76" fill="#a084df"/>
<rect x="117.74" y="398.83" width="10.06" height="14.76" fill="#b187ce"/>
<rect x="127.50" y="398.83" width="10.06" height="14.76" fill="#bd88c2"/>
<rect x="137.26" y="398.83" width="10.06" height="14.76" fill="#b187ce"/>
<rect x="147.02" y="398.83" width="10.06" height="14.76" fill="#a685d9"/>
<rect x="156.78" y="398.83" width="10.06" height="14.76" fill="#bd88c2"/>
<rect x="166.54" y="398.83" width="10.06" height="14.76" fill="#9383ec"/>
<rect x="176.30" y="398.83" width="10.06" height="14.76" fill="#a084df"/>
<rect x="186.06" y="398.83" width="10.06" height="14.76" fill="#9983e6"/>
<rect x="195.82" y="398.83" width="10.06" height="14.76" fill="#bd88c2"/>
<rect x="205.58" y="398.83" width="10.06" height="14.76" fill="#a084df"/>
<rect x="215.34" y="398.83" width="10.06" height="14.76" fill="#b187ce"/>
<rect x="225.10" y="398.83" width="10.06" height="14.76" fill="#9383ec"/>
<rect x="234.86" y="398.83" width="10.06" height="14.76" fill="#9983e6"/>
<rect x="244.62" y="398.83" width="10.06" height="14.76" fill="#9983e6"/>
<rect x="254.38" y="398.83" width="10.06" height="14.76" fill="#8d82f2"/>
<rect x="264.14" y="398.83" width="10.06" height="14.76" fill="#8d82f2"/>
<rect x="273.90" y="398.83" width="10.06" height="14.76" fill="#8d82f2"/>
<rect x="283.66" y="398.83" width="10.06" height="14.76" fill="#a084df"/>
<rect x="293.42" y="398.83" width="10.06" height="14.76" fill="#c88ab7"/>
<rect x="303.18" y="398.83" width="10.06" height="14.76" fill="#8080ff"/>
<rect x="312.94" y="398.83" width="10.06" height="14.76" fill="#a685d9"/>
<rect x="322.70" y="398.83" width="10.06" height="14.76" fill="#b187ce"/>
<rect x="78.70" y="413.29" width="10.06" height="14.76" fill="#9983e6"/>
<rect x="88.46" y="413.29" width="10.06" height="14.76" fill="#9383ec"/>
<rect x="98.22" y="413.29" width="10.06" height="14.76" fill="#a084df"/>
<rect x="107.98" y="413.29" width="10.06" height="14.76" fill="#a685d9"/>
<rect x="117.74" y="413.29" width="10.06" height="14.76" fill="#b187ce"/>
<rect x="127.50" y="413.29" width="10.06" height="14.76" fill="#ea8e95"/>
<rect x="137.26" y="413.29" width="10.06" height="14.76" fill="#d38bac"/>
<rect x="147.02" y="413.29" width="10.06" height="14.76" fill="#d38bac"/>
<rect x="156.78" y="413.29" width="10.06" height="14.76" fill="#b187ce"/>
<rect x="166.54" y="413.29" width="10.06" height="14.76" fill="#9383ec"/>
<rect x="176.30" y="413.29" width="10.06" height="14.76" fill="#c88ab7"/>
<rect x="186.06" y="413.29" width="10.06" height="14.76" fill="#9983e6"/>
<rect x="195.82" y="413.29" width="10.06" height="14.76" fill="#df8da0"/>
<rect x="205.58" y="413.29" width="10.06" height="14.76" fill="#a084df"/>
<rect x="215.34" y="413.29" width="10.06" height="14.76" fill="#b187ce"/>
<rect x="225.10" y="413.29" width="10.06" height="14.76" fill="#9383ec"/>
<rect x="234.86" y="413.29" width="10.06" height="14.76" fill="#9983e6"/>
<rect x="244.62" y="413.29" width="10.06" height="14.76" fill="#9983e6"/>
<rect x="254.38" y="413.29" width="10.06" height="14.76" fill="#8d82f2"/>
<rect x="264.14" y="413.29" width="10.06" height="14.76" fill="#8d82f2"/>
<rect x="273.90" y="413.29" width="10.06" height="14.76" fill="#8d82f2"/>
<rect x="283.66" y="413.29" width="10.06" height="14.76" fill="#9983e6"/>
<rect x="293.42" y="413.29" width="10.06" height="14.76" fill="#a685d9"/>
<rect x="303.18" y="413.29" width="10.06" height="14.76" fill="#8080ff"/>
<rect x="312.94" y="413.29" width="10.06" height="14.76" fill="#a685d9"/>
<rect x="322.70" y="413.29" width="10.06" height="14.76" fill="#ea8e95"/>
<rect x="78.70" y="427.74" width="10.06" height="14.76" fill="#a084df"/>
<rect x="88.46" y="427.74" width="10.06" height="14.76" fill="#9383ec"/>
<rect x="98.22" y="427.74" width="10.06" height="14.76" fill="#a084df"/>
<rect x="107.98" y="427.74" width="10.06" height="14.76" fill="#8d82f2"/>
<rect x="117.74" y="427.74" width="10.06" height="14.76" fill="#a084df"/>
<rect x="127.50" y="427.74" width="10.06" height="14.76" fill="#8681f9"/>
<rect x="137.26" y="427.74" width="10.06" height="14.76" fill="#8681f9"/>
<rect x="147.02" y="427.74" width="10.06" height="14.76" fill="#8681f9"/>
<rect x="156.78" y="427.74" width="10.06" height="14.76" fill="#a685d9"/>
<rect x="166.54" y="427.74" width="10.06" height="14.76" fill="#9383ec"/>
<rect x="176.30" y="427.74" width="10.06" height="14.76" fill="#a084df"/>
<rect x="186.06" y="427.74" width="10.06" height="14.76" fill="#9983e6"/>
<rect x="195.82" y="427.74" width="10.06" height="14.76" fill="#a685d9"/>
<rect x="205.58" y="427.74" width="10.06" height="14.76" fill="#a685d9"/>
<rect x="215.34" y="427.74" width="10.06" height="14.76" fill="#c88ab7"/>
<rect x="225.10" y="427.74" width="10.06" height="14.76" fill="#a084df"/>
<rect x="234.86" y="427.74" width="10.06" height="14.76" fill="#a084df"/>
<rect x="244.62" y="427.74" width="10.06" height="14.76" fill="#9983e6"/>
<rect x="254.38" y="427.74" width="10.06" height="14.76" fill="#b187ce"/>
<rect x="264.14" y="427.74" width="10.06" height="14.76" fill="#9383ec"/>
<rect x="273.90" y="427.74" width="10.06" height="14.76" fill="#9383ec"/>
<rect x="283.66" y="427.74" width="10.06" height="14.76" fill="#9983e6"/>
<rect x="293.42" y="427.74" width="10.06" height="14.76" fill="#a084df"/>
<rect x="303.18" y="427.74" width="10.06" height="14.76" fill="#df8da0"/>
<rect x="312.94" y="427.74" width="10.06" height="14.76" fill="#9383ec"/>
<rect x="322.70" y="427.74" width="10.06" height="14.76" fill="#a685d9"/>
<rect x="78.70" y="442.20" width="10.06" height="14.76" fill="#a685d9"/>
<rect x="88.46" y="442.20" width="10.06" height="14.76" fill="#a084df"/>
<rect x="98.22" y="442.20" width="10.06" height="14.76" fill="#9383ec"/>
<rect x="107.98" y="442.20" width="10.06" height="14.76" fill="#a685d9"/>
<rect x="117.74" y="442.20" width="10.06" height="14.76" fill="#b187ce"/>
<rect x="127.50" y="442.20" width="10.06" height="14.76" fill="#b187ce"/>
<rect x="137.26" y="442.20" width="10.06" height="14.76" fill="#a685d9"/>
<rect x="147.02" y="442.20" width="10.06" height="14.76" fill="#8681f9"/>
<rect x="156.78" y="442.20" width="10.06" height="14.76" fill="#bd88c2"/>
<rect x="166.54" y="442.20" width="10.06" height="14.76" fill="#9983e6"/>
<rect x="176.30" y="442.20" width="10.06" height="14.76" fill="#8080ff"/>
<rect x="186.06" y="442.20" width="10.06" height="14.76" fill="#a084df"/>
<rect x="195.82" y="442.20" width="10.06" height="14.76" fill="#b187ce"/>
<rect x="205.58" y="442.20" width="10.06" height="14.76" fill="#b187ce"/>
<rect x="215.34" y="442.20" width="10.06" height="14.76" fill="#a685d9"/>
<rect x="225.10" y="442.20" width="10.06" height="14.76" fill="#a084df"/>
<rect x="234.86" y="442.20" width="10.06" height="14.76" fill="#a685d9"/>
<rect x="244.62" y="442.20" width="10.06" height="14.76" fill="#a685d9"/>
<rect x="254.38" y="442.20" width="10.06" height="14.76" fill="#9383ec"/>
<rect x="264.14" y="442.20" width="10.06" height="14.76" fill="#a685d9"/>
<rect x="273.90" y="442.20" width="10.06" height="14.76" fill="#a685d9"/>
<rect x="283.66" y="442.20" width="10.06" height="14.76" fill="#b187ce"/>
<rect x="293.42" y="442.20" width="10.06" height="14.76" fill="#df8da0"/>
<rect x="303.18" y="442.20" width="10.06" height="14.76" fill="#8d82f2"/>
<rect x="312.94" y="442.20" width="10.06" height="14.76" fill="#a685d9"/>
<rect x="322.70" y="442.20" width="10.06" height="14.76" fill="#b187ce"/>
<rect x="78.70" y="456.66" width="10.06" height="14.76" fill="#a685d9"/>
<rect x="88.46" y="456.66" width="10.06" height="14.76" fill="#df8da0"/>
<rect x="98.22" y="456.66" width="10.06" height="14.76" fill="#a084df"/>
<rect x="107.98" y="456.66" width="10.06" height="14.76" fill="#df8da0"/>
<rect x="117.74" y="456.66" width="10.06" height="14.76" fill="#df8da0"/>
<rect x="127.50" y="456.66" width="10.06" height="14.76" fill="#a685d9"/>
<rect x="137.26" y="456.66" width="10.06" height="14.76" fill="#df8da0"/>
<rect x="147.02" y="456.66" width="10.06" height="14.76" fill="#df8da0"/>
<rect x="156.78" y="456.66" width="10.06" height="14.76" fill="#c88ab7"/>
<rect x="166.54" y="456.66" width="10.06" height="14.76" fill="#8d82f2"/>
<rect x="176.30" y="456.66" width="10.06" height="14.76" fill="#b187ce"/>
<rect x="186.06" y="456.66" width="10.06" height="14.76" fill="#b187ce"/>
<rect x="195.82" y="456.66" width="10.06" height="14.76" fill="#a084df"/>
<rect x="205.58" y="456.66" width="10.06" height="14.76" fill="#8080ff"/>
<rect x="215.34" y="456.66" width="10.06" height="14.76" fill="#ea8e95"/>
<rect x="225.10" y="456.66" width="10.06" height="14.76" fill="#a685d9"/>
<rect x="234.86" y="456.66" width="10.06" height="14.76" fill="#a084df"/>
<rect x="244.62" y="456.66" width="10.06" height="14.76" fill="#a685d9"/>
<rect x="254.38" y="456.66" width="10.06" height="14.76" fill="#b187ce"/>
<rect x="264.14" y="456.66" width="10.06" height="14.76" fill="#8d82f2"/>
<rect x="273.90" y="456.66" width="10.06" height="14.76" fill="#a084df"/>
<rect x="283.66" y="456.66" width="10.06" height="14.76" fill="#a084df"/>
<rect x="293.42" y="456.66" width="10.06" height="14.76" fill="#9383ec"/>
<rect x="303.18" y="456.66" width="10.06" height="14.76" fill="#a685d9"/>
<rect x="312.94" y="456.66" width="10.06" height="14.76" fill="#bd88c2"/>
<rect x="322.70" y="456.66" width="10.06" height="14.76" fill="#ea8e95"/>
<rect x="78.70" y="471.12" width="10.06" height="14.76" fill="#8080ff"/>
<rect x="88.46" y="471.12" width="10.06" height="14.76" fill="#8080ff"/>
<rect x="98.22" y="471.12" width="10.06" height="14.76" fill="#8080ff"/>
<rect x="107.98" y="471.12" width="10.06" height="14.76" fill="#bd88c2"/>
<rect x="117.74" y="471.12" width="10.06" height="14.76" fill="#d38bac"/>
<rect x="127.50" y="471.12" width="10.06" height="14.76" fill="#a685d9"/>
<rect x="137.26" y="471.12" width="10.06" height="14.76" fill="#b187ce"/>
<rect x="147.02" y="471.12" width="10.06" height="14.76" fill="#b187ce"/>
<rect x="156.78" y="471.12" width="10.06" height="14.76" fill="#a685d9"/>
<rect x="166.54" y="471.12" width="10.06" height="14.76" fill="#9383ec"/>
<rect x="176.30" y="471.12" width="10.06" height="14.76" fill="#9983e6"/>
<rect x="186.06" y="471.12" width="10.06" height="14.76" fill="#8681f9"/>
<rect x="195.82" y="471.12" width="10.06" height="14.76" fill="#a685d9"/>
<rect x="205.58" y="471.12" width="10.06" height="14.76" fill="#a685d9"/>
<rect x="215.34" y="471.12" width="10.06" height="14.76" fill="#a685d9"/>
<rect x="225.10" y="471.12" width="10.06" height="14.76" fill="#8080ff"/>
<rect x="234.86" y="471.12" width="10.06" height="14.76" fill="#8681f9"/>
<rect x="244.62" y="471.12" width="10.06" height="14.76" fill="#8d82f2"/>
<rect x="254.38" y="471.12" width="10.06" height="14.76" fill="#df8da0"/>
<rect x="264.14" y="471.12" width="10.06" height="14.76" fill="#a685d9"/>
<rect x="273.90" y="471.12" width="10.06" height="14.76" fill="#a685d9"/>
<rect x="283.66" y="471.12" width="10.06" height="14.76" fill="#9383ec"/>
<rect x="293.42" y="471.12" width="10.06" height="14.76" fill="#8681f9"/>
<rect x="303.18" y="471.12" width="10.06" height="14.76" fill="#a084df"/>
<rect x="312.94" y="471.12" width="10.06" height="14.76" fill="#b187ce"/>
<rect x="322.70" y="471.12" width="10.06" height="14.76" fill="#a685d9"/>
<rect x="78.70" y="485.58" width="10.06" height="14.76" fill="#d38bac"/>
<rect x="88.46" y="485.58" width="10.06" height="14.76" fill="#b187ce"/>
<rect x="98.22" y="485.58" width="10.06" height="14.76" fill="#bd88c2"/>
<rect x="107.98" y="485.58" width="10.06" height="14.76" fill="#8080ff"/>
<rect x="117.74" y="485.58" width="10.06" height="14.76" fill="#9383ec"/>
<rect x="127.50" y="485.58" width="10.06" height="14.76" fill="#a685d9"/>
<rect x="137.26" y="485.58" width="10.06" height="14.76" fill="#8d82f2"/>
<rect x="147.02" y="485.58" width="10.06" height="14.76" fill="#a685d9"/>
<rect x="156.78" y="485.58" width="10.06" height="14.76" fill="#8080ff"/>
<rect x="166.54" y="485.58" width="10.06" height="14.76" fill="#b187ce"/>
<rect x="176.30" y="485.58" width="10.06" height="14.76" fill="#8d82f2"/>
<rect x="186.06" y="485.58" width="10.06" height="14.76" fill="#d38bac"/>
<rect x="195.82" y="485.58" width="10.06" height="14.76" fill="#bd88c2"/>
<rect x="205.58" y="485.58" width="10.06" height="14.76" fill="#ea8e95"/>
<rect x="215.34" y="485.58" width="10.06" height="14.76" fill="#b187ce"/>
<rect x="225.10" y="485.58" width="10.06" height="14.76" fill="#bd88c2"/>
<rect x="234.86" y="485.58" width="10.06" height="14.76" fill="#d38bac"/>
<rect x="244.62" y="485.58" width="10.06" height="14.76" fill="#b187ce"/>
<rect x="254.38" y="485.58" width="10.06" height="14.76" fill="#df8da0"/>
<rect x="264.14" y="485.58" width="10.06" height="14.76" fill="#df8da0"/>
<rect x="273.90" y="485.58" width="10.06" height="14.76" fill="#b187ce"/>
<rect x="283.66" y="485.58" width="10.06" height="14.76" fill="#c88ab7"/>
<rect x="293.42" y="485.58" width="10.06" height="14.76" fill="#b187ce"/>
<rect x="303.18" y="485.58" width="10.06" height="14.76" fill="#ea8e95"/>
<rect x="312.94" y="485.58" width="10.06" height="14.76" fill="#8681f9"/>
<rect x="322.70" y="485.58" width="10.06" height="14.76" fill="#a685d9"/>
<rect x="78.70" y="500.03" width="10.06" height="14.76" fill="#b187ce"/>
<rect x="88.46" y="500.03" width="10.06" height="14.76" fill="#b187ce"/>
<rect x="98.22" y="500.03" width="10.06" height="14.76" fill="#c88ab7"/>
<rect x="107.98" y="500.03" width="10.06" height="14.76" fill="#df8da0"/>
<rect x="117.74" y="500.03" width="10.06" height="14.76" fill="#c88ab7"/>
<rect x="127.50" y="500.03" width="10.06" height="14.76" fill="#df8da0"/>
<rect x="137.26" y="500.03" width="10.06" height="14.76" fill="#a685d9"/>
<rect x="147.02" y="500.03" width="10.06" height="14.76" fill="#d38bac"/>
<rect x="156.78" y="500.03" width="10.06" height="14.76" fill="#c88ab7"/>
<rect x="166.54" y="500.03" width="10.06" height="14.76" fill="#d38bac"/>
<rect x="176.30" y="500.03" width="10.06" height="14.76" fill="#df8da0"/>
<rect x="186.06" y="500.03" width="10.06" height="14.76" fill="#8681f9"/>
<rect x="195.82" y="500.03" width="10.06" height="14.76" fill="#9383ec"/>
<rect x="205.58" y="500.03" width="10.06" height="14.76" fill="#bd88c2"/>
<rect x="215.34" y="500.03" width="10.06" height="14.76" fill="#9383ec"/>
<rect x="225.10" y="500.03" width="10.06" height="14.76" fill="#8080ff"/>
<rect x="234.86" y="500.03" width="10.06" height="14.76" fill="#9383ec"/>
<rect x="244.62" y="500.03" width="10.06" height="14.76" fill="#a685d9"/>
<rect x="254.38" y="500.03" width="10.06" height="14.76" fill="#b187ce"/>
<rect x="264.14" y="500.03" width="10.06" height="14.76" fill="#9383ec"/>
<rect x="273.90" y="500.03" width="10.06" height="14.76" fill="#a084df"/>
<rect x="283.66" y="500.03" width="10.06" height="14.76" fill="#b187ce"/>
<rect x="293.42" y="500.03" width="10.06" height="14.76" fill="#a084df"/>
<rect x="303.18" y="500.03" width="10.06" height="14.76" fill="#bd88c2"/>
<rect x="312.94" y="500.03" width="10.06" height="14.76" fill="#a685d9"/>
<rect x="322.70" y="500.03" width="10.06" height="14.76" fill="#a685d9"/>
<rect x="78.70" y="514.49" width="10.06" height="14.76" fill="#ea8e95"/>
<rect x="88.46" y="514.49" width="10.06" height="14.76" fill="#ea8e95"/>
<rect x="98.22" y="514.49" width="10.06" height="14.76" fill="#ea8e95"/>
<rect x="107.98" y="514.49" width="10.06" height="14.76" fill="#a685d9"/>
<rect x="117.74" y="514.49" width="10.06" height="14.76" fill="#a685d9"/>
<rect x="127.50" y="514.49" width="10.06" height="14.76" fill="#a685d9"/>
<rect x="137.26" y="514.49" width="10.06" height="14.76" fill="#8a81f5"/>
<rect x="147.02" y="514.49" width="10.06" height="14.76" fill="#bd88c2"/>
<rect x="156.78" y="514.49" width="10.06" height="14.76" fill="#b187ce"/>
<rect x="166.54" y="514.49" width="10.06" height="14.76" fill="#df8da0"/>
<rect x="176.30" y="514.49" width="10.06" height="14.76" fill="#9383ec"/>
<rect x="186.06" y="514.49" width="10.06" height="14.76" fill="#df8da0"/>
<rect x="195.82" y="514.49" width="10.06" height="14.76" fill="#8d82f2"/>
<rect x="205.58" y="514.49" width="10.06" height="14.76" fill="#8681f9"/>
<rect x="215.34" y="514.49" width="10.06" height="14.76" fill="#9383ec"/>
<rect x="225.10" y="514.49" width="10.06" height="14.76" fill="#ea8e95"/>
<rect x="234.86" y="514.49" width="10.06" height="14.76" fill="#a084df"/>
<rect x="244.62" y="514.49" width="10.06" height="14.76" fill="#a685d9"/>
<rect x="254.38" y="514.49" width="10.06" height="14.76" fill="#8d82f2"/>
<rect x="264.14" y="514.49" width="10.06" height="14.76" fill="#b187ce"/>
<rect x="273.90" y="514.49" width="10.06" height="14.76" fill="#df8da0"/>
<rect x="283.66" y="514.49" width="10.06" height="14.76" fill="#bd88c2"/>
<rect x="293.42" y="514.49" width="10.06" height="14.76" fill="#df8da0"/>
<rect x="303.18" y="514.49" width="10.06" height="14.76" fill="#a084df"/>
<rect x="312.94" y="514.49" width="10.06" height="14.76" fill="#a685d9"/>
<rect x="322.70" y="514.49" width="10.06" height="14.76" fill="#a685d9"/>
<rect x="78.70" y="528.95" width="10.06" height="14.76" fill="#a685d9"/>
<rect x="88.46" y="528.95" width="10.06" height="14.76" fill="#a685d9"/>
<rect x="98.22" y="528.95" width="10.06" height="14.76" fill="#a685d9"/>
<rect x="107.98" y="528.95" width="10.06" height="14.76" fill="#a685d9"/>
<rect x="117.74" y="528.95" width="10.06" height="14.76" fill="#b687c9"/>
<rect x="127.50" y="528.95" width="10.06" height="14.76" fill="#b687c9"/>
<rect x="137.26" y="528.95" width="10.06" height="14.76" fill="#b187ce"/>
<rect x="147.02" y="528.95" width="10.06" height="14.76" fill="#a084df"/>
<rect x="156.78" y="528.95" width="10.06" height="14.76" fill="#ea8e95"/>
<rect x="166.54" y="528.95" width="10.06" height="14.76" fill="#a685d9"/>
<rect x="176.30" y="528.95" width="10.06" height="14.76" fill="#bd88c2"/>
<rect x="186.06" y="528.95" width="10.06" height="14.76" fill="#a084df"/>
<rect x="195.82" y="528.95" width="10.06" height="14.76" fill="#bd88c2"/>
<rect x="205.58" y="528.95" width="10.06" height="14.76" fill="#a685d9"/>
<rect x="215.34" y="528.95" width="10.06" height="14.76" fill="#df8da0"/>
<rect x="225.10" y="528.95" width="10.06" height="14.76" fill="#a084df"/>
<rect x="234.86" y="528.95" width="10.06" height="14.76" fill="#a084df"/>
<rect x="244.62" y="528.95" width="10.06" height="14.76" fill="#a685d9"/>
<rect x="254.38" y="528.95" width="10.06" height="14.76" fill="#a685d9"/>
<rect x="264.14" y="528.95" width="10.06" height="14.76" fill="#a084df"/>
<rect x="273.90" y="528.95" width="10.06" height="14.76" fill="#a084df"/>
<rect x="283.66" y="528.95" width="10.06" height="14.76" fill="#a685d9"/>
<rect x="293.42" y="528.95" width="10.06" height="14.76" fill="#a084df"/>
<rect x="303.18" y="528.95" width="10.06" height="14.76" fill="#9983e6"/>
<rect x="312.94" y="528.95" width="10.06" height="14.76" fill="#a685d9"/>
<rect x="322.70" y="528.95" width="10.06" height="14.76" fill="#bd88c2"/>
<rect x="78.70" y="543.41" width="10.06" height="14.76" fill="#9383ec"/>
<rect x="88.46" y="543.41" width="10.06" height="14.76" fill="#8681f9"/>
<rect x="98.22" y="543.41" width="10.06" height="14.76" fill="#9383ec"/>
<rect x="107.98" y="543.41" width="10.06" height="14.76" fill="#9383ec"/>
<rect x="117.74" y="543.41" width="10.06" height="14.76" fill="#a084df"/>
<rect x="127.50" y="543.41" width="10.06" height="14.76" fill="#9383ec"/>
<rect x="137.26" y="543.41" width="10.06" height="14.76" fill="#a685d9"/>
<rect x="147.02" y="543.41" width="10.06" height="14.76" fill="#8681f9"/>
<rect x="156.78" y="543.41" width="10.06" height="14.76" fill="#ea8e95"/>
<rect x="166.54" y="543.41" width="10.06" height="14.76" fill="#9983e6"/>
<rect x="176.30" y="543.41" width="10.06" height="14.76" fill="#a084df"/>
<rect x="186.06" y="543.41" width="10.06" height="14.76" fill="#9383ec"/>
<rect x="195.82" y="543.41" width="10.06" height="14.76" fill="#b187ce"/>
<rect x="205.58" y="543.41" width="10.06" height="14.76" fill="#a685d9"/>
<rect x="215.34" y="543.41" width="10.06" height="14.76" fill="#a685d9"/>
<rect x="225.10" y="543.41" width="10.06" height="14.76" fill="#9383ec"/>
<rect x="234.86" y="543.41" width="10.06" height="14.76" fill="#9983e6"/>
<rect x="244.62" y="543.41" width="10.06" height="14.76" fill="#8d82f2"/>
<rect x="254.38" y="543.41" width="10.06" height="14.76" fill="#df8da0"/>
<rect x="264.14" y="543.41" width="10.06" height="14.76" fill="#9383ec"/>
<rect x="273.90" y="543.41" width="10.06" height="14.76" fill="#8681f9"/>
<rect x="283.66" y="543.41" width="10.06" height="14.76" fill="#9383ec"/>
<rect x="293.42" y="543.41" width="10.06" height="14.76" fill="#b187ce"/>
<rect x="303.18" y="543.41" width="10.06" height="14.76" fill="#a084df"/>
<rect x="312.94" y="543.41" width="10.06" height="14.76" fill="#b187ce"/>
<rect x="322.70" y="543.41" width="10.06" height="14.76" fill="#a685d9"/>
<rect x="78.70" y="557.87" width="10.06" height="14.76" fill="#ea8e95"/>
<rect x="88.46" y="557.87" width="10.06" height="14.76" fill="#b187ce"/>
<rect x="98.22" y="557.87" width="10.06" height="14.76" fill="#df8da0"/>
<rect x="107.98" y="557.87" width="10.06" height="14.76" fill="#df8da0"/>
<rect x="117.74" y="557.87" width="10.06" height="14.76" fill="#c88ab7"/>
<rect x="127.50" y="557.87" width="10.06" height="14.76" fill="#df8da0"/>
<rect x="137.26" y="557.87" width="10.06" height="14.76" fill="#b187ce"/>
<rect x="147.02" y="557.87" width="10.06" height="14.76" fill="#bd88c2"/>
<rect x="156.78" y="557.87" width="10.06" height="14.76" fill="#bd88c2"/>
<rect x="166.54" y="557.87" width="10.06" height="14.76" fill="#df8da0"/>
<rect x="176.30" y="557.87" width="10.06" height="14.76" fill="#a084df"/>
<rect x="186.06" y="557.87" width="10.06" height="14.76" fill="#d38bac"/>
<rect x="195.82" y="557.87" width="10.06" height="14.76" fill="#b187ce"/>
<rect x="205.58" y="557.87" width="10.06" height="14.76" fill="#a685d9"/>
<rect x="215.34" y="557.87" width="10.06" height="14.76" fill="#8080ff"/>
<rect x="225.10" y="557.87" width="10.06" height="14.76" fill="#d38bac"/>
<rect x="234.86" y="557.87" width="10.06" height="14.76" fill="#d38bac"/>
<rect x="244.62" y="557.87" width="10.06" height="14.76" fill="#df8da0"/>
<rect x="254.38" y="557.87" width="10.06" height="14.76" fill="#b187ce"/>
<rect x="264.14" y="557.87" width="10.06" height="14.76" fill="#d38bac"/>
<rect x="273.90" y="557.87" width="10.06" height="14.76" fill="#b187ce"/>
<rect x="283.66" y="557.87" width="10.06" height="14.76" fill="#c88ab7"/>
<rect x="293.42" y="557.87" width="10.06" height="14.76" fill="#c88ab7"/>
<rect x="303.18" y="557.87" width="10.06" height="14.76" fill="#b187ce"/>
<rect x="312.94" y="557.87" width="10.06" height="14.76" fill="#c88ab7"/>
<rect x="322.70" y="557.87" width="10.06" height="14.76" fill="#a685d9"/>
<rect x="78.70" y="572.32" width="10.06" height="14.76" fill="#9383ec"/>
<rect x="88.46" y="572.32" width="10.06" height="14.76" fill="#8080ff"/>
<rect x="98.22" y="572.32" width="10.06" height="14.76" fill="#9983e6"/>
<rect x="107.98" y="572.32" width="10.06" height="14.76" fill="#8d82f2"/>
<rect x="117.74" y="572.32" width="10.06" height="14.76" fill="#a685d9"/>
<rect x="127.50" y="572.32" width="10.06" height="14.76" fill="#8d82f2"/>
<rect x="137.26" y="572.32" width="10.06" height="14.76" fill="#ea8e95"/>
<rect x="147.02" y="572.32" width="10.06" height="14.76" fill="#a084df"/>
<rect x="156.78" y="572.32" width="10.06" height="14.76" fill="#ea8e95"/>
<rect x="166.54" y="572.32" width="10.06" height="14.76" fill="#8681f9"/>
<rect x="176.30" y="572.32" width="10.06" height="14.76" fill="#df8da0"/>
<rect x="186.06" y="572.32" width="10.06" height="14.76" fill="#8681f9"/>
<rect x="195.82" y="572.32" width="10.06" height="14.76" fill="#a685d9"/>
<rect x="205.58" y="572.32" width="10.06" height="14.76" fill="#a685d9"/>
<rect x="215.34" y="572.32" width="10.06" height="14.76" fill="#df8da0"/>
<rect x="225.10" y="572.32" width="10.06" height="14.76" fill="#9383ec"/>
<rect x="234.86" y="572.32" width="10.06" height="14.76" fill="#9983e6"/>
<rect x="244.62" y="572.32" width="10.06" height="14.76" fill="#9383ec"/>
<rect x="254.38" y="572.32" width="10.06" height="14.76" fill="#a685d9"/>
<rect x="264.14" y="572.32" width="10.06" height="14.76" fill="#8d82f2"/>
<rect x="273.90" y="572.32" width="10.06" height="14.76" fill="#8080ff"/>
<rect x="283.66" y="572.32" width="10.06" height="14.76" fill="#9383ec"/>
<rect x="293.42" y="572.32" width="10.06" height="14.76" fill="#9983e6"/>
<rect x="303.18" y="572.32" width="10.06" height="14.76" fill="#bd88c2"/>
<rect x="312.94" y="572.32" width="10.06" height="14.76" fill="#9383ec"/>
<rect x="322.70" y="572.32" width="10.06" height="14.76" fill="#ea8e95"/>
<rect x="78.70" y="586.78" width="10.06" height="14.76" fill="#a685d9"/>
<rect x="88.46" y="586.78" width="10.06" height="14.76" fill="#a685d9"/>
<rect x="98.22" y="586.78" width="10.06" height="14.76" fill="#a685d9"/>
<rect x="107.98" y="586.78" width="10.06" height="14.76" fill="#a685d9"/>
<rect x="117.74" y="586.78" width="10.06" height="14.76" fill="#b187ce"/>
<rect x="127.50" y="586.78" width="10.06" height="14.76" fill="#a084df"/>
<rect x="137.26" y="586.78" width="10.06" height="14.76" fill="#a685d9"/>
<rect x="147.02" y="586.78" width="10.06" height="14.76" fill="#a685d9"/>
<rect x="156.78" y="586.78" width="10.06" height="14.76" fill="#b187ce"/>
<rect x="166.54" y="586.78" width="10.06" height="14.76" fill="#a084df"/>
<rect x="176.30" y="586.78" width="10.06" height="14.76" fill="#a084df"/>
<rect x="186.06" y="586.78" width="10.06" height="14.76" fill="#a084df"/>
<rect x="195.82" y="586.78" width="10.06" height="14.76" fill="#a685d9"/>
<rect x="205.58" y="586.78" width="10.06" height="14.76" fill="#a685d9"/>
<rect x="215.34" y="586.78" width="10.06" height="14.76" fill="#b187ce"/>
<rect x="225.10" y="586.78" width="10.06" height="14.76" fill="#a084df"/>
<rect x="234.86" y="586.78" width="10.06" height="14.76" fill="#a084df"/>
<rect x="244.62" y="586.78" width="10.06" height="14.76" fill="#a084df"/>
<rect x="254.38" y="586.78" width="10.06" height="14.76" fill="#d38bac"/>
<rect x="264.14" y="586.78" width="10.06" height="14.76" fill="#a084df"/>
<rect x="273.90" y="586.78" width="10.06" height="14.76" fill="#a084df"/>
<rect x="283.66" y="586.78" width="10.06" height="14.76" fill="#a685d9"/>
<rect x="293.42" y="586.78" width="10.06" height="14.76" fill="#9983e6"/>
<rect x="303.18" y="586.78" width="10.06" height="14.76" fill="#a685d9"/>
<rect x="312.94" y="586.78" width="10.06" height="14.76" fill="#b187ce"/>
<rect x="322.70" y="586.78" width="10.06" height="14.76" fill="#d38bac"/>
<rect x="78.70" y="601.24" width="10.06" height="14.76" fill="#a685d9"/>
<rect x="88.46" y="601.24" width="10.06" height="14.76" fill="#a685d9"/>
<rect x="98.22" y="601.24" width="10.06" height="14.76" fill="#a685d9"/>
<rect x="107.98" y="601.24" width="10.06" height="14.76" fill="#a685d9"/>
<rect x="117.74" y="601.24" width="10.06" height="14.76" fill="#a685d9"/>
<rect x="127.50" y="601.24" width="10.06" height="14.76" fill="#ea8e95"/>
<rect x="137.26" y="601.24" width="10.06" height="14.76" fill="#a685d9"/>
<rect x="147.02" y="601.24" width="10.06" height="14.76" fill="#a685d9"/>
<rect x="156.78" y="601.24" width="10.06" height="14.76" fill="#8080ff"/>
<rect x="166.54" y="601.24" width="10.06" height="14.76" fill="#a685d9"/>
<rect x="176.30" y="601.24" width="10.06" height="14.76" fill="#a685d9"/>
<rect x="186.06" y="601.24" width="10.06" height="14.76" fill="#a685d9"/>
<rect x="195.82" y="601.24" width="10.06" height="14.76" fill="#a685d9"/>
<rect x="205.58" y="601.24" width="10.06" height="14.76" fill="#a685d9"/>
<rect x="215.34" y="601.24" width="10.06" height="14.76" fill="#a685d9"/>
<rect x="225.10" y="601.24" width="10.06" height="14.76" fill="#a084df"/>
<rect x="234.86" y="601.24" width="10.06" height="14.76" fill="#a084df"/>
<rect x="244.62" y="601.24" width="10.06" height="14.76" fill="#a084df"/>
<rect x="254.38" y="601.24" width="10.06" height="14.76" fill="#a084df"/>
<rect x="264.14" y="601.24" width="10.06" height="14.76" fill="#a084df"/>
<rect x="273.90" y="601.24" width="10.06" height="14.76" fill="#a084df"/>
<rect x="283.66" y="601.24" width="10.06" height="14.76" fill="#a084df"/>
<rect x="293.42" y="601.24" width="10.06" height="14.76" fill="#a084df"/>
<rect x="303.18" y="601.24" width="10.06" height="14.76" fill="#a084df"/>
<rect x="312.94" y="601.24" width="10.06" height="14.76" fill="#a084df"/>
<rect x="322.70" y="601.24" width="10.06" height="14.76" fill="#a084df"/>
</g>
<line x1="74.70" y1="174.73" x2="78.70" y2="174.73" stroke="#000" stroke-width="1.0"/>
<text x="70.70" y="178.03" font-size="9.5" text-anchor="end" fill="#000">white</text>
<line x1="74.70" y1="189.19" x2="78.70" y2="189.19" stroke="#000" stroke-width="1.0"/>
<text x="70.70" y="192.49" font-size="9.5" text-anchor="end" fill="#000">paleturquoise</text>
<line x1="74.70" y1="203.65" x2="78.70" y2="203.65" stroke="#000" stroke-width="1.0"/>
<text x="70.70" y="206.95" font-size="9.5" text-anchor="end" fill="#000">royalblue</text>
<line x1="74.70" y1="218.10" x2="78.70" y2="218.10" stroke="#000" stroke-width="1.0"/>
<text x="70.70" y="221.40" font-size="9.5" text-anchor="end" fill="#000">cyan</text>
<line x1="74.70" y1="232.56" x2="78.70" y2="232.56" stroke="#000" stroke-width="1.0"/>
<text x="70.70" y="235.86" font-size="9.5" text-anchor="end" fill="#000">brown</text>
<line x1="74.70" y1="247.02" x2="78.70" y2="247.02" stroke="#000" stroke-width="1.0"/>
<text x="70.70" y="250.32" font-size="9.5" text-anchor="end" fill="#000">greenyellow</text>
<line x1="74.70" y1="261.48" x2="78.70" y2="261.48" stroke="#000" stroke-width="1.0"/>
<text x="70.70" y="264.78" font-size="9.5" text-anchor="end" fill="#000">grey60</text>
<line x1="74.70" y1="275.94" x2="78.70" y2="275.94" stroke="#000" stroke-width="1.0"/>
<text x="70.70" y="279.24" font-size="9.5" text-anchor="end" fill="#000">black</text>
<line x1="74.70" y1="290.39" x2="78.70" y2="290.39" stroke="#000" stroke-width="1.0"/>
<text x="70.70" y="293.69" font-size="9.5" text-anchor="end" fill="#000">green</text>
<line x1="74.70" y1="304.85" x2="78.70" y2="304.85" stroke="#000" stroke-width="1.0"/>
<text x="70.70" y="308.15" font-size="9.5" text-anchor="end" fill="#000">darkturquoise</text>
<line x1="74.70" y1="319.31" x2="78.70" y2="319.31" stroke="#000" stroke-width="1.0"/>
<text x="70.70" y="322.61" font-size="9.5" text-anchor="end" fill="#000">darkgreen</text>
<line x1="74.70" y1="333.77" x2="78.70" y2="333.77" stroke="#000" stroke-width="1.0"/>
<text x="70.70" y="337.07" font-size="9.5" text-anchor="end" fill="#000">lightyellow</text>
<line x1="74.70" y1="348.23" x2="78.70" y2="348.23" stroke="#000" stroke-width="1.0"/>
<text x="70.70" y="351.53" font-size="9.5" text-anchor="end" fill="#000">red</text>
<line x1="74.70" y1="362.68" x2="78.70" y2="362.68" stroke="#000" stroke-width="1.0"/>
<text x="70.70" y="365.98" font-size="9.5" text-anchor="end" fill="#000">skyblue</text>
<line x1="74.70" y1="377.14" x2="78.70" y2="377.14" stroke="#000" stroke-width="1.0"/>
<text x="70.70" y="380.44" font-size="9.5" text-anchor="end" fill="#000">darkorange</text>
<line x1="74.70" y1="391.60" x2="78.70" y2="391.60" stroke="#000" stroke-width="1.0"/>
<text x="70.70" y="394.90" font-size="9.5" text-anchor="end" fill="#000">pink</text>
<line x1="74.70" y1="406.06" x2="78.70" y2="406.06" stroke="#000" stroke-width="1.0"/>
<text x="70.70" y="409.36" font-size="9.5" text-anchor="end" fill="#000">lightcyan</text>
<line x1="74.70" y1="420.51" x2="78.70" y2="420.51" stroke="#000" stroke-width="1.0"/>
<text x="70.70" y="423.81" font-size="9.5" text-anchor="end" fill="#000">darkgrey</text>
<line x1="74.70" y1="434.97" x2="78.70" y2="434.97" stroke="#000" stroke-width="1.0"/>
<text x="70.70" y="438.27" font-size="9.5" text-anchor="end" fill="#000">orange</text>
<line x1="74.70" y1="449.43" x2="78.70" y2="449.43" stroke="#000" stroke-width="1.0"/>
<text x="70.70" y="452.73" font-size="9.5" text-anchor="end" fill="#000">salmon</text>
<line x1="74.70" y1="463.89" x2="78.70" y2="463.89" stroke="#000" stroke-width="1.0"/>
<text x="70.70" y="467.19" font-size="9.5" text-anchor="end" fill="#000">magenta</text>
<line x1="74.70" y1="478.35" x2="78.70" y2="478.35" stroke="#000" stroke-width="1.0"/>
<text x="70.70" y="481.65" font-size="9.5" text-anchor="end" fill="#000">turquoise</text>
<line x1="74.70" y1="492.81" x2="78.70" y2="492.81" stroke="#000" stroke-width="1.0"/>
<text x="70.70" y="496.11" font-size="9.5" text-anchor="end" fill="#000">saddlebrown</text>
<line x1="74.70" y1="507.26" x2="78.70" y2="507.26" stroke="#000" stroke-width="1.0"/>
<text x="70.70" y="510.56" font-size="9.5" text-anchor="end" fill="#000">darkred</text>
<line x1="74.70" y1="521.72" x2="78.70" y2="521.72" stroke="#000" stroke-width="1.0"/>
<text x="70.70" y="525.02" font-size="9.5" text-anchor="end" fill="#000">tan</text>
<line x1="74.70" y1="536.18" x2="78.70" y2="536.18" stroke="#000" stroke-width="1.0"/>
<text x="70.70" y="539.48" font-size="9.5" text-anchor="end" fill="#000">midnightblue</text>
<line x1="74.70" y1="550.64" x2="78.70" y2="550.64" stroke="#000" stroke-width="1.0"/>
<text x="70.70" y="553.94" font-size="9.5" text-anchor="end" fill="#000">yellow</text>
<line x1="74.70" y1="565.10" x2="78.70" y2="565.10" stroke="#000" stroke-width="1.0"/>
<text x="70.70" y="568.39" font-size="9.5" text-anchor="end" fill="#000">purple</text>
<line x1="74.70" y1="579.55" x2="78.70" y2="579.55" stroke="#000" stroke-width="1.0"/>
<text x="70.70" y="582.85" font-size="9.5" text-anchor="end" fill="#000">blue</text>
<line x1="74.70" y1="594.01" x2="78.70" y2="594.01" stroke="#000" stroke-width="1.0"/>
<text x="70.70" y="597.31" font-size="9.5" text-anchor="end" fill="#000">steelblue</text>
<line x1="74.70" y1="608.47" x2="78.70" y2="608.47" stroke="#000" stroke-width="1.0"/>
<text x="70.70" y="611.77" font-size="9.5" text-anchor="end" fill="#000">lightgreen</text>
<line x1="83.58" y1="615.70" x2="83.58" y2="620.20" stroke="#000" stroke-width="1.0"/>
<text x="86.78" y="624.30" font-size="9.5" text-anchor="end" fill="#000" transform="rotate(-90 86.78 624.30)">torus</text>
<line x1="93.34" y1="615.70" x2="93.34" y2="620.20" stroke="#000" stroke-width="1.0"/>
<text x="96.54" y="624.30" font-size="9.5" text-anchor="end" fill="#000" transform="rotate(-90 96.54 624.30)">stem</text>
<line x1="103.10" y1="615.70" x2="103.10" y2="620.20" stroke="#000" stroke-width="1.0"/>
<text x="106.30" y="624.30" font-size="9.5" text-anchor="end" fill="#000" transform="rotate(-90 106.30 624.30)">sepal</text>
<line x1="112.86" y1="615.70" x2="112.86" y2="620.20" stroke="#000" stroke-width="1.0"/>
<text x="116.06" y="624.30" font-size="9.5" text-anchor="end" fill="#000" transform="rotate(-90 116.06 624.30)">root</text>
<line x1="122.62" y1="615.70" x2="122.62" y2="620.20" stroke="#000" stroke-width="1.0"/>
<text x="125.82" y="624.30" font-size="9.5" text-anchor="end" fill="#000" transform="rotate(-90 125.82 624.30)">pistil</text>
<line x1="132.38" y1="615.70" x2="132.38" y2="620.20" stroke="#000" stroke-width="1.0"/>
<text x="135.58" y="624.30" font-size="9.5" text-anchor="end" fill="#000" transform="rotate(-90 135.58 624.30)">petal</text>
<line x1="142.14" y1="615.70" x2="142.14" y2="620.20" stroke="#000" stroke-width="1.0"/>
<text x="145.34" y="624.30" font-size="9.5" text-anchor="end" fill="#000" transform="rotate(-90 145.34 624.30)">peg</text>
<line x1="151.90" y1="615.70" x2="151.90" y2="620.20" stroke="#000" stroke-width="1.0"/>
<text x="155.10" y="624.30" font-size="9.5" text-anchor="end" fill="#000" transform="rotate(-90 155.10 624.30)">nacl</text>
<line x1="161.66" y1="615.70" x2="161.66" y2="620.20" stroke="#000" stroke-width="1.0"/>
<text x="164.86" y="624.30" font-size="9.5" text-anchor="end" fill="#000" transform="rotate(-90 164.86 624.30)">leaf</text>
<line x1="171.42" y1="615.70" x2="171.42" y2="620.20" stroke="#000" stroke-width="1.0"/>
<text x="174.62" y="624.30" font-size="9.5" text-anchor="end" fill="#000" transform="rotate(-90 174.62 624.30)">filament</text>
<line x1="181.18" y1="615.70" x2="181.18" y2="620.20" stroke="#000" stroke-width="1.0"/>
<text x="184.38" y="624.30" font-size="9.5" text-anchor="end" fill="#000" transform="rotate(-90 184.38 624.30)">ck</text>
<line x1="190.94" y1="615.70" x2="190.94" y2="620.20" stroke="#000" stroke-width="1.0"/>
<text x="194.14" y="624.30" font-size="9.5" text-anchor="end" fill="#000" transform="rotate(-90 194.14 624.30)">bract</text>
<line x1="200.70" y1="615.70" x2="200.70" y2="620.20" stroke="#000" stroke-width="1.0"/>
<text x="203.90" y="624.30" font-size="9.5" text-anchor="end" fill="#000" transform="rotate(-90 203.90 624.30)">anther</text>
<line x1="210.46" y1="615.70" x2="210.46" y2="620.20" stroke="#000" stroke-width="1.0"/>
<text x="213.66" y="624.30" font-size="9.5" text-anchor="end" fill="#000" transform="rotate(-90 213.66 624.30)">0DPA</text>
<line x1="220.22" y1="615.70" x2="220.22" y2="620.20" stroke="#000" stroke-width="1.0"/>
<text x="223.42" y="624.30" font-size="9.5" text-anchor="end" fill="#000" transform="rotate(-90 223.42 624.30)">5DPA</text>
<line x1="229.98" y1="615.70" x2="229.98" y2="620.20" stroke="#000" stroke-width="1.0"/>
<text x="233.18" y="624.30" font-size="9.5" text-anchor="end" fill="#000" transform="rotate(-90 233.18 624.30)">1DPA</text>
<line x1="239.74" y1="615.70" x2="239.74" y2="620.20" stroke="#000" stroke-width="1.0"/>
<text x="242.94" y="624.30" font-size="9.5" text-anchor="end" fill="#000" transform="rotate(-90 242.94 624.30)">m3DPA</text>
<line x1="249.50" y1="615.70" x2="249.50" y2="620.20" stroke="#000" stroke-width="1.0"/>
<text x="252.70" y="624.30" font-size="9.5" text-anchor="end" fill="#000" transform="rotate(-90 252.70 624.30)">3DPA</text>
<line x1="259.26" y1="615.70" x2="259.26" y2="620.20" stroke="#000" stroke-width="1.0"/>
<text x="262.46" y="624.30" font-size="9.5" text-anchor="end" fill="#000" transform="rotate(-90 262.46 624.30)">10DPA</text>
<line x1="269.02" y1="615.70" x2="269.02" y2="620.20" stroke="#000" stroke-width="1.0"/>
<text x="272.22" y="624.30" font-size="9.5" text-anchor="end" fill="#000" transform="rotate(-90 272.22 624.30)">15DPA</text>
<line x1="278.78" y1="615.70" x2="278.78" y2="620.20" stroke="#000" stroke-width="1.0"/>
<text x="281.98" y="624.30" font-size="9.5" text-anchor="end" fill="#000" transform="rotate(-90 281.98 624.30)">20DPA</text>
<line x1="288.54" y1="615.70" x2="288.54" y2="620.20" stroke="#000" stroke-width="1.0"/>
<text x="291.74" y="624.30" font-size="9.5" text-anchor="end" fill="#000" transform="rotate(-90 291.74 624.30)">25DPA</text>
<line x1="298.30" y1="615.70" x2="298.30" y2="620.20" stroke="#000" stroke-width="1.0"/>
<text x="301.50" y="624.30" font-size="9.5" text-anchor="end" fill="#000" transform="rotate(-90 301.50 624.30)">ovule</text>
<line x1="308.06" y1="615.70" x2="308.06" y2="620.20" stroke="#000" stroke-width="1.0"/>
<text x="311.26" y="624.30" font-size="9.5" text-anchor="end" fill="#000" transform="rotate(-90 311.26 624.30)">fiber</text>
<line x1="317.82" y1="615.70" x2="317.82" y2="620.20" stroke="#000" stroke-width="1.0"/>
<text x="321.02" y="624.30" font-size="9.5" text-anchor="end" fill="#000" transform="rotate(-90 321.02 624.30)">cold</text>
<line x1="327.58" y1="615.70" x2="327.58" y2="620.20" stroke="#000" stroke-width="1.0"/>
<text x="330.78" y="624.30" font-size="9.5" text-anchor="end" fill="#000" transform="rotate(-90 330.78 624.30)">hot</text>
<g shape-rendering="crispEdges">
<rect x="417.70" y="12.00" width="95.70" height="310.81" fill="#F5C795"/>
<rect x="417.70" y="12.00" width="8.90" height="10.23" fill="#A592DC"/>
<rect x="443.80" y="12.00" width="8.90" height="10.23" fill="#A592DC"/>
<rect x="469.90" y="12.00" width="8.90" height="10.23" fill="#A592DC"/>
<rect x="435.10" y="22.03" width="8.90" height="10.23" fill="#A592DC"/>
<rect x="443.80" y="22.03" width="8.90" height="10.23" fill="#A592DC"/>
<rect x="452.50" y="22.03" width="8.90" height="10.23" fill="#A592DC"/>
<rect x="461.20" y="22.03" width="8.90" height="10.23" fill="#A592DC"/>
<rect x="469.90" y="22.03" width="8.90" height="10.23" fill="#A592DC"/>
<rect x="478.60" y="22.03" width="8.90" height="10.23" fill="#A592DC"/>
<rect x="487.30" y="22.03" width="8.90" height="10.23" fill="#A592DC"/>
<rect x="496.00" y="22.03" width="8.90" height="10.23" fill="#A592DC"/>
<rect x="504.70" y="22.03" width="8.90" height="10.23" fill="#A592DC"/>
<rect x="435.10" y="32.05" width="8.90" height="10.23" fill="#A592DC"/>
<rect x="469.90" y="32.05" width="8.90" height="10.23" fill="#A592DC"/>
<rect x="426.40" y="42.08" width="8.90" height="10.23" fill="#A592DC"/>
<rect x="435.10" y="42.08" width="8.90" height="10.23" fill="#A592DC"/>
<rect x="452.50" y="42.08" width="8.90" height="10.23" fill="#A592DC"/>
<rect x="461.20" y="42.08" width="8.90" height="10.23" fill="#A592DC"/>
<rect x="469.90" y="42.08" width="8.90" height="10.23" fill="#A592DC"/>
<rect x="478.60" y="42.08" width="8.90" height="10.23" fill="#A592DC"/>
<rect x="487.30" y="42.08" width="8.90" height="10.23" fill="#A592DC"/>
<rect x="504.70" y="42.08" width="8.90" height="10.23" fill="#A592DC"/>
<rect x="426.40" y="52.10" width="8.90" height="10.23" fill="#A592DC"/>
<rect x="435.10" y="52.10" width="8.90" height="10.23" fill="#A592DC"/>
<rect x="469.90" y="52.10" width="8.90" height="10.23" fill="#A592DC"/>
<rect x="435.10" y="62.13" width="8.90" height="10.23" fill="#A592DC"/>
<rect x="443.80" y="62.13" width="8.90" height="10.23" fill="#A592DC"/>
<rect x="452.50" y="62.13" width="8.90" height="10.23" fill="#A592DC"/>
<rect x="469.90" y="62.13" width="8.90" height="10.23" fill="#A592DC"/>
<rect x="478.60" y="62.13" width="8.90" height="10.23" fill="#A592DC"/>
<rect x="487.30" y="62.13" width="8.90" height="10.23" fill="#A592DC"/>
<rect x="496.00" y="62.13" width="8.90" height="10.23" fill="#A592DC"/>
<rect x="504.70" y="62.13" width="8.90" height="10.23" fill="#A592DC"/>
<rect x="426.40" y="72.16" width="8.90" height="10.23" fill="#A592DC"/>
<rect x="435.10" y="72.16" width="8.90" height="10.23" fill="#A592DC"/>
<rect x="443.80" y="72.16" width="8.90" height="10.23" fill="#A592DC"/>
<rect x="452.50" y="72.16" width="8.90" height="10.23" fill="#A592DC"/>
<rect x="461.20" y="72.16" width="8.90" height="10.23" fill="#A592DC"/>
<rect x="469.90" y="72.16" width="8.90" height="10.23" fill="#A592DC"/>
<rect x="478.60" y="72.16" width="8.90" height="10.23" fill="#A592DC"/>
<rect x="487.30" y="72.16" width="8.90" height="10.23" fill="#A592DC"/>
<rect x="496.00" y="72.16" width="8.90" height="10.23" fill="#A592DC"/>
<rect x="504.70" y="72.16" width="8.90" height="10.23" fill="#A592DC"/>
<rect x="435.10" y="82.18" width="8.90" height="10.23" fill="#A592DC"/>
<rect x="443.80" y="82.18" width="8.90" height="10.23" fill="#A592DC"/>
<rect x="452.50" y="82.18" width="8.90" height="10.23" fill="#A592DC"/>
<rect x="461.20" y="82.18" width="8.90" height="10.23" fill="#A592DC"/>
<rect x="469.90" y="82.18" width="8.90" height="10.23" fill="#A592DC"/>
<rect x="504.70" y="82.18" width="8.90" height="10.23" fill="#A592DC"/>
<rect x="417.70" y="92.21" width="8.90" height="10.23" fill="#A592DC"/>
<rect x="435.10" y="92.21" width="8.90" height="10.23" fill="#A592DC"/>
<rect x="461.20" y="92.21" width="8.90" height="10.23" fill="#A592DC"/>
<rect x="469.90" y="92.21" width="8.90" height="10.23" fill="#A592DC"/>
<rect x="443.80" y="102.23" width="8.90" height="10.23" fill="#A592DC"/>
<rect x="461.20" y="102.23" width="8.90" height="10.23" fill="#A592DC"/>
<rect x="469.90" y="102.23" width="8.90" height="10.23" fill="#A592DC"/>
<rect x="478.60" y="102.23" width="8.90" height="10.23" fill="#A592DC"/>
<rect x="496.00" y="102.23" width="8.90" height="10.23" fill="#A592DC"/>
<rect x="504.70" y="102.23" width="8.90" height="10.23" fill="#A592DC"/>
<rect x="435.10" y="122.29" width="8.90" height="10.23" fill="#A592DC"/>
<rect x="469.90" y="122.29" width="8.90" height="10.23" fill="#A592DC"/>
<rect x="469.90" y="132.31" width="8.90" height="10.23" fill="#A592DC"/>
<rect x="435.10" y="142.34" width="8.90" height="10.23" fill="#A592DC"/>
<rect x="469.90" y="142.34" width="8.90" height="10.23" fill="#A592DC"/>
<rect x="487.30" y="142.34" width="8.90" height="10.23" fill="#A592DC"/>
<rect x="469.90" y="152.36" width="8.90" height="10.23" fill="#A592DC"/>
<rect x="435.10" y="162.39" width="8.90" height="10.23" fill="#A592DC"/>
<rect x="443.80" y="162.39" width="8.90" height="10.23" fill="#A592DC"/>
<rect x="452.50" y="162.39" width="8.90" height="10.23" fill="#A592DC"/>
<rect x="461.20" y="162.39" width="8.90" height="10.23" fill="#A592DC"/>
<rect x="469.90" y="162.39" width="8.90" height="10.23" fill="#A592DC"/>
<rect x="478.60" y="162.39" width="8.90" height="10.23" fill="#A592DC"/>
<rect x="487.30" y="162.39" width="8.90" height="10.23" fill="#A592DC"/>
<rect x="496.00" y="162.39" width="8.90" height="10.23" fill="#A592DC"/>
<rect x="504.70" y="162.39" width="8.90" height="10.23" fill="#A592DC"/>
<rect x="435.10" y="172.42" width="8.90" height="10.23" fill="#A592DC"/>
<rect x="443.80" y="172.42" width="8.90" height="10.23" fill="#A592DC"/>
<rect x="461.20" y="172.42" width="8.90" height="10.23" fill="#A592DC"/>
<rect x="469.90" y="172.42" width="8.90" height="10.23" fill="#A592DC"/>
<rect x="435.10" y="182.44" width="8.90" height="10.23" fill="#A592DC"/>
<rect x="443.80" y="182.44" width="8.90" height="10.23" fill="#A592DC"/>
<rect x="461.20" y="182.44" width="8.90" height="10.23" fill="#A592DC"/>
<rect x="469.90" y="182.44" width="8.90" height="10.23" fill="#A592DC"/>
<rect x="487.30" y="182.44" width="8.90" height="10.23" fill="#A592DC"/>
<rect x="435.10" y="192.47" width="8.90" height="10.23" fill="#A592DC"/>
<rect x="443.80" y="192.47" width="8.90" height="10.23" fill="#A592DC"/>
<rect x="452.50" y="192.47" width="8.90" height="10.23" fill="#A592DC"/>
<rect x="461.20" y="192.47" width="8.90" height="10.23" fill="#A592DC"/>
<rect x="469.90" y="192.47" width="8.90" height="10.23" fill="#A592DC"/>
<rect x="478.60" y="192.47" width="8.90" height="10.23" fill="#A592DC"/>
<rect x="487.30" y="192.47" width="8.90" height="10.23" fill="#A592DC"/>
<rect x="504.70" y="192.47" width="8.90" height="10.23" fill="#A592DC"/>
<rect x="487.30" y="202.49" width="8.90" height="10.23" fill="#A592DC"/>
<rect x="417.70" y="212.52" width="8.90" height="10.23" fill="#A592DC"/>
<rect x="426.40" y="212.52" width="8.90" height="10.23" fill="#A592DC"/>
<rect x="435.10" y="212.52" width="8.90" height="10.23" fill="#A592DC"/>
<rect x="443.80" y="212.52" width="8.90" height="10.23" fill="#A592DC"/>
<rect x="469.90" y="212.52" width="8.90" height="10.23" fill="#A592DC"/>
<rect x="435.10" y="222.55" width="8.90" height="10.23" fill="#A592DC"/>
<rect x="443.80" y="222.55" width="8.90" height="10.23" fill="#A592DC"/>
<rect x="452.50" y="222.55" width="8.90" height="10.23" fill="#A592DC"/>
<rect x="461.20" y="222.55" width="8.90" height="10.23" fill="#A592DC"/>
<rect x="469.90" y="222.55" width="8.90" height="10.23" fill="#A592DC"/>
<rect x="478.60" y="222.55" width="8.90" height="10.23" fill="#A592DC"/>
<rect x="487.30" y="222.55" width="8.90" height="10.23" fill="#A592DC"/>
<rect x="496.00" y="222.55" width="8.90" height="10.23" fill="#A592DC"/>
<rect x="504.70" y="222.55" width="8.90" height="10.23" fill="#A592DC"/>
<rect x="426.40" y="232.57" width="8.90" height="10.23" fill="#A592DC"/>
<rect x="435.10" y="232.57" width="8.90" height="10.23" fill="#A592DC"/>
<rect x="443.80" y="232.57" width="8.90" height="10.23" fill="#A592DC"/>
<rect x="452.50" y="232.57" width="8.90" height="10.23" fill="#A592DC"/>
<rect x="461.20" y="232.57" width="8.90" height="10.23" fill="#A592DC"/>
<rect x="469.90" y="232.57" width="8.90" height="10.23" fill="#A592DC"/>
<rect x="478.60" y="232.57" width="8.90" height="10.23" fill="#A592DC"/>
<rect x="487.30" y="232.57" width="8.90" height="10.23" fill="#A592DC"/>
<rect x="496.00" y="232.57" width="8.90" height="10.23" fill="#A592DC"/>
<rect x="504.70" y="232.57" width="8.90" height="10.23" fill="#A592DC"/>
<rect x="435.10" y="242.60" width="8.90" height="10.23" fill="#A592DC"/>
<rect x="452.50" y="242.60" width="8.90" height="10.23" fill="#A592DC"/>
<rect x="461.20" y="242.60" width="8.90" height="10.23" fill="#A592DC"/>
<rect x="469.90" y="242.60" width="8.90" height="10.23" fill="#A592DC"/>
<rect x="478.60" y="242.60" width="8.90" height="10.23" fill="#A592DC"/>
<rect x="487.30" y="242.60" width="8.90" height="10.23" fill="#A592DC"/>
<rect x="504.70" y="242.60" width="8.90" height="10.23" fill="#A592DC"/>
<rect x="417.70" y="252.62" width="8.90" height="10.23" fill="#A592DC"/>
<rect x="435.10" y="252.62" width="8.90" height="10.23" fill="#A592DC"/>
<rect x="443.80" y="252.62" width="8.90" height="10.23" fill="#A592DC"/>
<rect x="461.20" y="252.62" width="8.90" height="10.23" fill="#A592DC"/>
<rect x="469.90" y="252.62" width="8.90" height="10.23" fill="#A592DC"/>
<rect x="487.30" y="252.62" width="8.90" height="10.23" fill="#A592DC"/>
<rect x="496.00" y="252.62" width="8.90" height="10.23" fill="#A592DC"/>
<rect x="504.70" y="252.62" width="8.90" height="10.23" fill="#A592DC"/>
<rect x="435.10" y="262.65" width="8.90" height="10.23" fill="#A592DC"/>
<rect x="469.90" y="262.65" width="8.90" height="10.23" fill="#A592DC"/>
<rect x="487.30" y="262.65" width="8.90" height="10.23" fill="#A592DC"/>
<rect x="426.40" y="272.68" width="8.90" height="10.23" fill="#A592DC"/>
<rect x="435.10" y="272.68" width="8.90" height="10.23" fill="#A592DC"/>
<rect x="443.80" y="272.68" width="8.90" height="10.23" fill="#A592DC"/>
<rect x="452.50" y="272.68" width="8.90" height="10.23" fill="#A592DC"/>
<rect x="469.90" y="272.68" width="8.90" height="10.23" fill="#A592DC"/>
<rect x="478.60" y="272.68" width="8.90" height="10.23" fill="#A592DC"/>
<rect x="487.30" y="272.68" width="8.90" height="10.23" fill="#A592DC"/>
<rect x="504.70" y="272.68" width="8.90" height="10.23" fill="#A592DC"/>
<rect x="426.40" y="282.70" width="8.90" height="10.23" fill="#A592DC"/>
<rect x="435.10" y="282.70" width="8.90" height="10.23" fill="#A592DC"/>
<rect x="443.80" y="282.70" width="8.90" height="10.23" fill="#A592DC"/>
<rect x="452.50" y="282.70" width="8.90" height="10.23" fill="#A592DC"/>
<rect x="461.20" y="282.70" width="8.90" height="10.23" fill="#A592DC"/>
<rect x="469.90" y="282.70" width="8.90" height="10.23" fill="#A592DC"/>
<rect x="478.60" y="282.70" width="8.90" height="10.23" fill="#A592DC"/>
<rect x="487.30" y="282.70" width="8.90" height="10.23" fill="#A592DC"/>
<rect x="496.00" y="282.70" width="8.90" height="10.23" fill="#A592DC"/>
<rect x="504.70" y="282.70" width="8.90" height="10.23" fill="#A592DC"/>
<rect x="435.10" y="292.73" width="8.90" height="10.23" fill="#A592DC"/>
<rect x="443.80" y="292.73" width="8.90" height="10.23" fill="#A592DC"/>
<rect x="452.50" y="292.73" width="8.90" height="10.23" fill="#A592DC"/>
<rect x="461.20" y="292.73" width="8.90" height="10.23" fill="#A592DC"/>
<rect x="469.90" y="292.73" width="8.90" height="10.23" fill="#A592DC"/>
<rect x="478.60" y="292.73" width="8.90" height="10.23" fill="#A592DC"/>
<rect x="487.30" y="292.73" width="8.90" height="10.23" fill="#A592DC"/>
<rect x="496.00" y="292.73" width="8.90" height="10.23" fill="#A592DC"/>
<rect x="443.80" y="302.75" width="8.90" height="10.23" fill="#A592DC"/>
<rect x="452.50" y="302.75" width="8.90" height="10.23" fill="#A592DC"/>
<rect x="461.20" y="302.75" width="8.90" height="10.23" fill="#A592DC"/>
<rect x="469.90" y="302.75" width="8.90" height="10.23" fill="#A592DC"/>
<rect x="478.60" y="302.75" width="8.90" height="10.23" fill="#A592DC"/>
<rect x="487.30" y="302.75" width="8.90" height="10.23" fill="#A592DC"/>
<rect x="496.00" y="302.75" width="8.90" height="10.23" fill="#A592DC"/>
<rect x="504.70" y="302.75" width="8.90" height="10.23" fill="#A592DC"/>
<rect x="435.10" y="312.78" width="8.90" height="10.23" fill="#A592DC"/>
<rect x="469.90" y="312.78" width="8.90" height="10.23" fill="#A592DC"/>
</g>
<line x1="426.40" y1="12.00" x2="426.40" y2="322.81" stroke="rgba(255,255,255,0.28)" stroke-width="0.5"/>
<line x1="435.10" y1="12.00" x2="435.10" y2="322.81" stroke="rgba(255,255,255,0.28)" stroke-width="0.5"/>
<line x1="443.80" y1="12.00" x2="443.80" y2="322.81" stroke="rgba(255,255,255,0.28)" stroke-width="0.5"/>
<line x1="452.50" y1="12.00" x2="452.50" y2="322.81" stroke="rgba(255,255,255,0.28)" stroke-width="0.5"/>
<line x1="461.20" y1="12.00" x2="461.20" y2="322.81" stroke="rgba(255,255,255,0.28)" stroke-width="0.5"/>
<line x1="469.90" y1="12.00" x2="469.90" y2="322.81" stroke="rgba(255,255,255,0.28)" stroke-width="0.5"/>
<line x1="478.60" y1="12.00" x2="478.60" y2="322.81" stroke="rgba(255,255,255,0.28)" stroke-width="0.5"/>
<line x1="487.30" y1="12.00" x2="487.30" y2="322.81" stroke="rgba(255,255,255,0.28)" stroke-width="0.5"/>
<line x1="496.00" y1="12.00" x2="496.00" y2="322.81" stroke="rgba(255,255,255,0.28)" stroke-width="0.5"/>
<line x1="504.70" y1="12.00" x2="504.70" y2="322.81" stroke="rgba(255,255,255,0.28)" stroke-width="0.5"/>
<line x1="417.70" y1="22.03" x2="513.40" y2="22.03" stroke="rgba(255,255,255,0.28)" stroke-width="0.5"/>
<line x1="417.70" y1="32.05" x2="513.40" y2="32.05" stroke="rgba(255,255,255,0.28)" stroke-width="0.5"/>
<line x1="417.70" y1="42.08" x2="513.40" y2="42.08" stroke="rgba(255,255,255,0.28)" stroke-width="0.5"/>
<line x1="417.70" y1="52.10" x2="513.40" y2="52.10" stroke="rgba(255,255,255,0.28)" stroke-width="0.5"/>
<line x1="417.70" y1="62.13" x2="513.40" y2="62.13" stroke="rgba(255,255,255,0.28)" stroke-width="0.5"/>
<line x1="417.70" y1="72.16" x2="513.40" y2="72.16" stroke="rgba(255,255,255,0.28)" stroke-width="0.5"/>
<line x1="417.70" y1="82.18" x2="513.40" y2="82.18" stroke="rgba(255,255,255,0.28)" stroke-width="0.5"/>
<line x1="417.70" y1="92.21" x2="513.40" y2="92.21" stroke="rgba(255,255,255,0.28)" stroke-width="0.5"/>
<line x1="417.70" y1="102.23" x2="513.40" y2="102.23" stroke="rgba(255,255,255,0.28)" stroke-width="0.5"/>
<line x1="417.70" y1="112.26" x2="513.40" y2="112.26" stroke="rgba(255,255,255,0.28)" stroke-width="0.5"/>
<line x1="417.70" y1="122.29" x2="513.40" y2="122.29" stroke="rgba(255,255,255,0.28)" stroke-width="0.5"/>
<line x1="417.70" y1="132.31" x2="513.40" y2="132.31" stroke="rgba(255,255,255,0.28)" stroke-width="0.5"/>
<line x1="417.70" y1="142.34" x2="513.40" y2="142.34" stroke="rgba(255,255,255,0.28)" stroke-width="0.5"/>
<line x1="417.70" y1="152.36" x2="513.40" y2="152.36" stroke="rgba(255,255,255,0.28)" stroke-width="0.5"/>
<line x1="417.70" y1="162.39" x2="513.40" y2="162.39" stroke="rgba(255,255,255,0.28)" stroke-width="0.5"/>
<line x1="417.70" y1="172.42" x2="513.40" y2="172.42" stroke="rgba(255,255,255,0.28)" stroke-width="0.5"/>
<line x1="417.70" y1="182.44" x2="513.40" y2="182.44" stroke="rgba(255,255,255,0.28)" stroke-width="0.5"/>
<line x1="417.70" y1="192.47" x2="513.40" y2="192.47" stroke="rgba(255,255,255,0.28)" stroke-width="0.5"/>
<line x1="417.70" y1="202.49" x2="513.40" y2="202.49" stroke="rgba(255,255,255,0.28)" stroke-width="0.5"/>
<line x1="417.70" y1="212.52" x2="513.40" y2="212.52" stroke="rgba(255,255,255,0.28)" stroke-width="0.5"/>
<line x1="417.70" y1="222.55" x2="513.40" y2="222.55" stroke="rgba(255,255,255,0.28)" stroke-width="0.5"/>
<line x1="417.70" y1="232.57" x2="513.40" y2="232.57" stroke="rgba(255,255,255,0.28)" stroke-width="0.5"/>
<line x1="417.70" y1="242.60" x2="513.40" y2="242.60" stroke="rgba(255,255,255,0.28)" stroke-width="0.5"/>
<line x1="417.70" y1="252.62" x2="513.40" y2="252.62" stroke="rgba(255,255,255,0.28)" stroke-width="0.5"/>
<line x1="417.70" y1="262.65" x2="513.40" y2="262.65" stroke="rgba(255,255,255,0.28)" stroke-width="0.5"/>
<line x1="417.70" y1="272.68" x2="513.40" y2="272.68" stroke="rgba(255,255,255,0.28)" stroke-width="0.5"/>
<line x1="417.70" y1="282.70" x2="513.40" y2="282.70" stroke="rgba(255,255,255,0.28)" stroke-width="0.5"/>
<line x1="417.70" y1="292.73" x2="513.40" y2="292.73" stroke="rgba(255,255,255,0.28)" stroke-width="0.5"/>
<line x1="417.70" y1="302.75" x2="513.40" y2="302.75" stroke="rgba(255,255,255,0.28)" stroke-width="0.5"/>
<line x1="417.70" y1="312.78" x2="513.40" y2="312.78" stroke="rgba(255,255,255,0.28)" stroke-width="0.5"/>
<line x1="413.70" y1="17.01" x2="417.70" y2="17.01" stroke="#000" stroke-width="1.0"/>
<text x="409.20" y="20.31" font-size="9.5" text-anchor="end" fill="#000">magenta</text>
<line x1="413.70" y1="37.06" x2="417.70" y2="37.06" stroke="#000" stroke-width="1.0"/>
<text x="409.20" y="40.36" font-size="9.5" text-anchor="end" fill="#000">yellow</text>
<line x1="413.70" y1="57.12" x2="417.70" y2="57.12" stroke="#000" stroke-width="1.0"/>
<text x="409.20" y="60.42" font-size="9.5" text-anchor="end" fill="#000">greenyellow</text>
<line x1="413.70" y1="77.17" x2="417.70" y2="77.17" stroke="#000" stroke-width="1.0"/>
<text x="409.20" y="80.47" font-size="9.5" text-anchor="end" fill="#000">steelblue</text>
<line x1="413.70" y1="97.22" x2="417.70" y2="97.22" stroke="#000" stroke-width="1.0"/>
<text x="409.20" y="100.52" font-size="9.5" text-anchor="end" fill="#000">cyan</text>
<line x1="413.70" y1="117.27" x2="417.70" y2="117.27" stroke="#000" stroke-width="1.0"/>
<text x="409.20" y="120.57" font-size="9.5" text-anchor="end" fill="#000">turquoise</text>
<line x1="413.70" y1="137.32" x2="417.70" y2="137.32" stroke="#000" stroke-width="1.0"/>
<text x="409.20" y="140.62" font-size="9.5" text-anchor="end" fill="#000">black</text>
<line x1="413.70" y1="157.38" x2="417.70" y2="157.38" stroke="#000" stroke-width="1.0"/>
<text x="409.20" y="160.68" font-size="9.5" text-anchor="end" fill="#000">blue</text>
<line x1="413.70" y1="177.43" x2="417.70" y2="177.43" stroke="#000" stroke-width="1.0"/>
<text x="409.20" y="180.73" font-size="9.5" text-anchor="end" fill="#000">brown</text>
<line x1="413.70" y1="197.48" x2="417.70" y2="197.48" stroke="#000" stroke-width="1.0"/>
<text x="409.20" y="200.78" font-size="9.5" text-anchor="end" fill="#000">grey60</text>
<line x1="413.70" y1="217.53" x2="417.70" y2="217.53" stroke="#000" stroke-width="1.0"/>
<text x="409.20" y="220.83" font-size="9.5" text-anchor="end" fill="#000">white</text>
<line x1="413.70" y1="237.59" x2="417.70" y2="237.59" stroke="#000" stroke-width="1.0"/>
<text x="409.20" y="240.89" font-size="9.5" text-anchor="end" fill="#000">lightgreen</text>
<line x1="413.70" y1="257.64" x2="417.70" y2="257.64" stroke="#000" stroke-width="1.0"/>
<text x="409.20" y="260.94" font-size="9.5" text-anchor="end" fill="#000">darkgreen</text>
<line x1="413.70" y1="277.69" x2="417.70" y2="277.69" stroke="#000" stroke-width="1.0"/>
<text x="409.20" y="280.99" font-size="9.5" text-anchor="end" fill="#000">saddlebrown</text>
<line x1="413.70" y1="297.74" x2="417.70" y2="297.74" stroke="#000" stroke-width="1.0"/>
<text x="409.20" y="301.04" font-size="9.5" text-anchor="end" fill="#000">pink</text>
<line x1="413.70" y1="317.79" x2="417.70" y2="317.79" stroke="#000" stroke-width="1.0"/>
<text x="409.20" y="321.09" font-size="9.5" text-anchor="end" fill="#000">tan</text>
<rect x="520.00" y="11.70" width="15.60" height="155.50" fill="#F5C795"/>
<rect x="520.00" y="167.20" width="15.60" height="155.60" fill="#A592DC"/>
<text x="545.80" y="91.60" font-size="11.5" text-anchor="middle" fill="#000" transform="rotate(-90 545.80 91.60)">Present</text>
<text x="545.80" y="239.40" font-size="11.5" text-anchor="middle" fill="#000" transform="rotate(-90 545.80 239.40)">Absent</text>
<line x1="406.40" y1="390.00" x2="410.90" y2="390.00" stroke="#000" stroke-width="1.0"/>
<text x="403.40" y="393.30" font-size="9.5" text-anchor="end" fill="#000">2</text>
<line x1="406.40" y1="417.70" x2="410.90" y2="417.70" stroke="#000" stroke-width="1.0"/>
<text x="403.40" y="421.00" font-size="9.5" text-anchor="end" fill="#000">1</text>
<line x1="441.80" y1="425.50" x2="441.80" y2="430.00" stroke="#000" stroke-width="1.0"/>
<text x="441.80" y="441.20" font-size="9.5" text-anchor="middle" fill="#000">Fiber</text>
<line x1="503.60" y1="425.50" x2="503.60" y2="430.00" stroke="#000" stroke-width="1.0"/>
<text x="503.60" y="441.20" font-size="9.5" text-anchor="middle" fill="#000">Ovule</text>
<circle cx="438.9" cy="412.6" r="1.4" fill="#F29AA6"/>
<circle cx="446.2" cy="406.9" r="1.4" fill="#F29AA6"/>
<circle cx="449.2" cy="413.0" r="1.4" fill="#F29AA6"/>
<circle cx="442.3" cy="404.5" r="1.4" fill="#F29AA6"/>
<circle cx="439.4" cy="420.4" r="1.4" fill="#F29AA6"/>
<circle cx="442.3" cy="421.6" r="1.4" fill="#F29AA6"/>
<circle cx="446.7" cy="421.6" r="1.4" fill="#F29AA6"/>
<circle cx="506.1" cy="381.9" r="1.4" fill="#FABD86"/>
<circle cx="503.2" cy="386.0" r="1.4" fill="#FABD86"/>
<circle cx="512.3" cy="395.9" r="1.4" fill="#FABD86"/>
<circle cx="499.5" cy="396.6" r="1.4" fill="#FABD86"/>
<circle cx="499.0" cy="404.0" r="1.4" fill="#FABD86"/>
<circle cx="499.5" cy="411.8" r="1.4" fill="#FABD86"/>
<line x1="442.40" y1="405.00" x2="442.40" y2="402.50" stroke="#000" stroke-width="1.1"/>
<line x1="442.40" y1="421.60" x2="442.40" y2="423.10" stroke="#000" stroke-width="1.1"/>
<line x1="437.80" y1="402.50" x2="447.00" y2="402.50" stroke="#000" stroke-width="1.1"/>
<line x1="437.80" y1="423.10" x2="447.00" y2="423.10" stroke="#000" stroke-width="1.1"/>
<rect x="433.20" y="405.00" width="18.40" height="16.60" fill="none" stroke="#000" stroke-width="1.1"/>
<line x1="433.20" y1="416.20" x2="451.60" y2="416.20" stroke="#FF7F0E" stroke-width="1.3"/>
<line x1="503.80" y1="384.80" x2="503.80" y2="379.90" stroke="#000" stroke-width="1.1"/>
<line x1="503.80" y1="397.60" x2="503.80" y2="411.80" stroke="#000" stroke-width="1.1"/>
<line x1="499.20" y1="379.90" x2="508.40" y2="379.90" stroke="#000" stroke-width="1.1"/>
<line x1="499.20" y1="411.80" x2="508.40" y2="411.80" stroke="#000" stroke-width="1.1"/>
<rect x="494.60" y="384.80" width="18.40" height="12.80" fill="none" stroke="#000" stroke-width="1.1"/>
<line x1="494.60" y1="390.20" x2="513.00" y2="390.20" stroke="#FF7F0E" stroke-width="1.3"/>
<rect x="410.90" y="378.20" width="122.70" height="47.30" fill="none" stroke="#000" stroke-width="1.1"/>
<text x="470.30" y="372.30" font-size="9.5" text-anchor="middle" fill="#000">CRI12_D12G3066</text>
<text x="393.00" y="401.50" font-size="9.5" text-anchor="middle" fill="#000" transform="rotate(-90 393.00 401.50)">log2(TPM+1)</text>
<text x="436.6" y="384.9" font-size="9.5">t=-5</text>
<text x="436.6" y="395.3" font-size="8.9" font-family="'DejaVu Sans', sans-serif" style="stroke-width:0.15px"><tspan font-style="italic">p</tspan>=8.8×10<tspan dy="-4" font-size="7">−5</tspan></text>
<line x1="412.40" y1="480.60" x2="416.90" y2="480.60" stroke="#000" stroke-width="1.0"/>
<text x="409.40" y="483.90" font-size="9.5" text-anchor="end" fill="#000">10</text>
<line x1="412.40" y1="503.00" x2="416.90" y2="503.00" stroke="#000" stroke-width="1.0"/>
<text x="409.40" y="506.30" font-size="9.5" text-anchor="end" fill="#000">5</text>
<line x1="412.40" y1="525.20" x2="416.90" y2="525.20" stroke="#000" stroke-width="1.0"/>
<text x="409.40" y="528.50" font-size="9.5" text-anchor="end" fill="#000">0</text>
<line x1="444.90" y1="525.20" x2="444.90" y2="529.70" stroke="#000" stroke-width="1.0"/>
<text x="444.90" y="540.00" font-size="9.5" text-anchor="middle" fill="#000">Fiber</text>
<line x1="505.20" y1="525.20" x2="505.20" y2="529.70" stroke="#000" stroke-width="1.0"/>
<text x="505.20" y="540.00" font-size="9.5" text-anchor="middle" fill="#000">Ovule</text>
<circle cx="444.3" cy="497.6" r="1.3" fill="#F29AA6"/>
<circle cx="447.0" cy="491.5" r="1.3" fill="#F29AA6"/>
<circle cx="442.0" cy="492.5" r="1.3" fill="#F29AA6"/>
<circle cx="501.5" cy="498.3" r="1.3" fill="#FABD86"/>
<line x1="447.80" y1="491.00" x2="447.80" y2="490.60" stroke="#000" stroke-width="1.1"/>
<line x1="447.80" y1="495.90" x2="447.80" y2="497.80" stroke="#000" stroke-width="1.1"/>
<line x1="443.20" y1="490.60" x2="452.40" y2="490.60" stroke="#000" stroke-width="1.1"/>
<line x1="443.20" y1="497.80" x2="452.40" y2="497.80" stroke="#000" stroke-width="1.1"/>
<rect x="438.60" y="491.00" width="18.40" height="4.90" fill="none" stroke="#000" stroke-width="1.1"/>
<line x1="438.60" y1="491.80" x2="457.00" y2="491.80" stroke="#FF7F0E" stroke-width="2.0"/>
<line x1="506.25" y1="491.90" x2="506.25" y2="491.50" stroke="#000" stroke-width="1.1"/>
<line x1="506.25" y1="495.00" x2="506.25" y2="495.30" stroke="#000" stroke-width="1.1"/>
<line x1="501.62" y1="491.50" x2="510.88" y2="491.50" stroke="#000" stroke-width="1.1"/>
<line x1="501.62" y1="495.30" x2="510.88" y2="495.30" stroke="#000" stroke-width="1.1"/>
<rect x="497.00" y="491.90" width="18.50" height="3.10" fill="none" stroke="#000" stroke-width="1.1"/>
<line x1="497.00" y1="493.40" x2="515.50" y2="493.40" stroke="#FF7F0E" stroke-width="2.0"/>
<rect x="416.90" y="480.60" width="116.70" height="44.60" fill="none" stroke="#000" stroke-width="1.1"/>
<text x="468.80" y="476.00" font-size="9.5" text-anchor="middle" fill="#000">CRI12_D12G3065</text>
<text x="393.00" y="504.00" font-size="9.5" text-anchor="middle" fill="#000" transform="rotate(-90 393.00 504.00)">log2(TPM+1)</text>
<text x="459.5" y="492.7" font-size="9.5">ns</text>
<line x1="408.00" y1="587.30" x2="412.50" y2="587.30" stroke="#000" stroke-width="1.0"/>
<text x="405.00" y="590.60" font-size="9.5" text-anchor="end" fill="#000">4</text>
<line x1="408.00" y1="619.80" x2="412.50" y2="619.80" stroke="#000" stroke-width="1.0"/>
<text x="405.00" y="623.10" font-size="9.5" text-anchor="end" fill="#000">2</text>
<line x1="443.40" y1="620.70" x2="443.40" y2="625.20" stroke="#000" stroke-width="1.0"/>
<text x="443.40" y="637.00" font-size="9.5" text-anchor="middle" fill="#000">Fiber</text>
<line x1="504.30" y1="620.70" x2="504.30" y2="625.20" stroke="#000" stroke-width="1.0"/>
<text x="504.30" y="637.00" font-size="9.5" text-anchor="middle" fill="#000">Ovule</text>
<circle cx="440.1" cy="580.3" r="1.4" fill="#F29AA6"/>
<circle cx="447.2" cy="576.1" r="1.4" fill="#F29AA6"/>
<circle cx="438.1" cy="587.7" r="1.4" fill="#F29AA6"/>
<circle cx="440.6" cy="593.3" r="1.4" fill="#F29AA6"/>
<circle cx="444.3" cy="593.3" r="1.4" fill="#F29AA6"/>
<circle cx="449.2" cy="608.0" r="1.4" fill="#F29AA6"/>
<circle cx="510.5" cy="586.0" r="1.4" fill="#FABD86"/>
<circle cx="507.6" cy="593.8" r="1.4" fill="#FABD86"/>
<circle cx="498.8" cy="619.1" r="1.4" fill="#FABD86"/>
<circle cx="499.5" cy="581.8" r="1.4" fill="#FABD86"/>
<line x1="443.70" y1="589.10" x2="443.70" y2="587.90" stroke="#000" stroke-width="1.1"/>
<line x1="443.70" y1="595.80" x2="443.70" y2="600.70" stroke="#000" stroke-width="1.1"/>
<line x1="438.85" y1="587.90" x2="448.55" y2="587.90" stroke="#000" stroke-width="1.1"/>
<line x1="438.85" y1="600.70" x2="448.55" y2="600.70" stroke="#000" stroke-width="1.1"/>
<rect x="434.00" y="589.10" width="19.40" height="6.70" fill="none" stroke="#000" stroke-width="1.1"/>
<line x1="434.00" y1="592.80" x2="453.40" y2="592.80" stroke="#FF7F0E" stroke-width="1.3"/>
<line x1="504.50" y1="581.80" x2="504.50" y2="577.90" stroke="#000" stroke-width="1.1"/>
<line x1="504.50" y1="592.60" x2="504.50" y2="605.10" stroke="#000" stroke-width="1.1"/>
<line x1="499.90" y1="577.90" x2="509.10" y2="577.90" stroke="#000" stroke-width="1.1"/>
<line x1="499.90" y1="605.10" x2="509.10" y2="605.10" stroke="#000" stroke-width="1.1"/>
<rect x="495.30" y="581.80" width="18.40" height="10.80" fill="none" stroke="#000" stroke-width="1.1"/>
<line x1="495.30" y1="582.50" x2="513.70" y2="582.50" stroke="#FF7F0E" stroke-width="1.3"/>
<rect x="412.50" y="574.40" width="121.10" height="46.30" fill="none" stroke="#000" stroke-width="1.1"/>
<text x="469.60" y="570.60" font-size="9.5" text-anchor="middle" fill="#000">CRI12_D01G1610</text>
<text x="393.00" y="598.00" font-size="9.5" text-anchor="middle" fill="#000" transform="rotate(-90 393.00 598.00)">log2(TPM+1)</text>
<text x="456.0" y="587.7" font-size="9.5">ns</text>
</svg>
</body></html>
